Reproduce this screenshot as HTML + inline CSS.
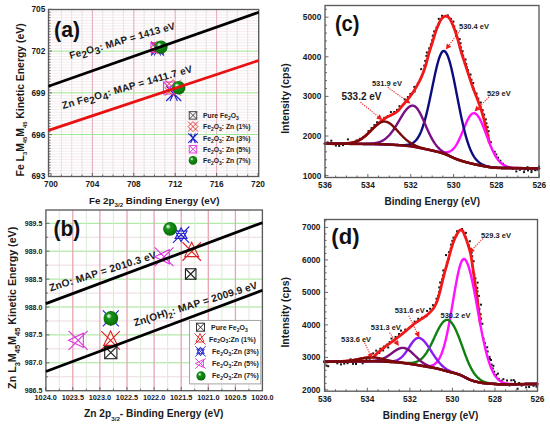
<!DOCTYPE html>
<html><head><meta charset="utf-8"><style>
html,body{margin:0;padding:0;background:#fff;}
svg{display:block;font-family:"Liberation Sans",sans-serif;}
</style></head><body>
<svg width="550" height="426" viewBox="0 0 550 426">
<rect width="550" height="426" fill="#fff"/>
<defs><radialGradient id="ball" cx="0.45" cy="0.42" r="0.6" fx="0.34" fy="0.32"><stop offset="0" stop-color="#f4fff4"/><stop offset="0.14" stop-color="#a8d8a8"/><stop offset="0.32" stop-color="#168e16"/><stop offset="0.8" stop-color="#0a780a"/><stop offset="1" stop-color="#066206"/></radialGradient><marker id="ah" viewBox="0 0 10 10" refX="9" refY="5" markerWidth="5" markerHeight="5" orient="auto"><path d="M0,0 L10,5 L0,10 z" fill="#f01010"/></marker></defs>
<line x1="48.5" y1="173.52" x2="258.7" y2="173.52" stroke="#f4e4e8" stroke-width="0.8" />
<line x1="48.5" y1="170.74" x2="258.7" y2="170.74" stroke="#f4e4e8" stroke-width="0.8" />
<line x1="48.5" y1="167.95" x2="258.7" y2="167.95" stroke="#f4e4e8" stroke-width="0.8" />
<line x1="48.5" y1="165.17" x2="258.7" y2="165.17" stroke="#f4e4e8" stroke-width="0.8" />
<line x1="48.5" y1="162.39" x2="258.7" y2="162.39" stroke="#f4e4e8" stroke-width="0.8" />
<line x1="48.5" y1="159.61" x2="258.7" y2="159.61" stroke="#f4e4e8" stroke-width="0.8" />
<line x1="48.5" y1="156.83" x2="258.7" y2="156.83" stroke="#f4e4e8" stroke-width="0.8" />
<line x1="48.5" y1="154.04" x2="258.7" y2="154.04" stroke="#f4e4e8" stroke-width="0.8" />
<line x1="48.5" y1="151.26" x2="258.7" y2="151.26" stroke="#f4e4e8" stroke-width="0.8" />
<line x1="48.5" y1="148.48" x2="258.7" y2="148.48" stroke="#f4e4e8" stroke-width="0.8" />
<line x1="48.5" y1="145.7" x2="258.7" y2="145.7" stroke="#f4e4e8" stroke-width="0.8" />
<line x1="48.5" y1="142.92" x2="258.7" y2="142.92" stroke="#f4e4e8" stroke-width="0.8" />
<line x1="48.5" y1="140.13" x2="258.7" y2="140.13" stroke="#f4e4e8" stroke-width="0.8" />
<line x1="48.5" y1="137.35" x2="258.7" y2="137.35" stroke="#f4e4e8" stroke-width="0.8" />
<line x1="48.5" y1="131.79" x2="258.7" y2="131.79" stroke="#f4e4e8" stroke-width="0.8" />
<line x1="48.5" y1="129.01" x2="258.7" y2="129.01" stroke="#f4e4e8" stroke-width="0.8" />
<line x1="48.5" y1="126.22" x2="258.7" y2="126.22" stroke="#f4e4e8" stroke-width="0.8" />
<line x1="48.5" y1="123.44" x2="258.7" y2="123.44" stroke="#f4e4e8" stroke-width="0.8" />
<line x1="48.5" y1="120.66" x2="258.7" y2="120.66" stroke="#f4e4e8" stroke-width="0.8" />
<line x1="48.5" y1="117.88" x2="258.7" y2="117.88" stroke="#f4e4e8" stroke-width="0.8" />
<line x1="48.5" y1="115.1" x2="258.7" y2="115.1" stroke="#f4e4e8" stroke-width="0.8" />
<line x1="48.5" y1="112.31" x2="258.7" y2="112.31" stroke="#f4e4e8" stroke-width="0.8" />
<line x1="48.5" y1="109.53" x2="258.7" y2="109.53" stroke="#f4e4e8" stroke-width="0.8" />
<line x1="48.5" y1="106.75" x2="258.7" y2="106.75" stroke="#f4e4e8" stroke-width="0.8" />
<line x1="48.5" y1="103.97" x2="258.7" y2="103.97" stroke="#f4e4e8" stroke-width="0.8" />
<line x1="48.5" y1="101.19" x2="258.7" y2="101.19" stroke="#f4e4e8" stroke-width="0.8" />
<line x1="48.5" y1="98.4" x2="258.7" y2="98.4" stroke="#f4e4e8" stroke-width="0.8" />
<line x1="48.5" y1="95.62" x2="258.7" y2="95.62" stroke="#f4e4e8" stroke-width="0.8" />
<line x1="48.5" y1="90.06" x2="258.7" y2="90.06" stroke="#f4e4e8" stroke-width="0.8" />
<line x1="48.5" y1="87.28" x2="258.7" y2="87.28" stroke="#f4e4e8" stroke-width="0.8" />
<line x1="48.5" y1="84.49" x2="258.7" y2="84.49" stroke="#f4e4e8" stroke-width="0.8" />
<line x1="48.5" y1="81.71" x2="258.7" y2="81.71" stroke="#f4e4e8" stroke-width="0.8" />
<line x1="48.5" y1="78.93" x2="258.7" y2="78.93" stroke="#f4e4e8" stroke-width="0.8" />
<line x1="48.5" y1="76.15" x2="258.7" y2="76.15" stroke="#f4e4e8" stroke-width="0.8" />
<line x1="48.5" y1="73.37" x2="258.7" y2="73.37" stroke="#f4e4e8" stroke-width="0.8" />
<line x1="48.5" y1="70.58" x2="258.7" y2="70.58" stroke="#f4e4e8" stroke-width="0.8" />
<line x1="48.5" y1="67.8" x2="258.7" y2="67.8" stroke="#f4e4e8" stroke-width="0.8" />
<line x1="48.5" y1="65.02" x2="258.7" y2="65.02" stroke="#f4e4e8" stroke-width="0.8" />
<line x1="48.5" y1="62.24" x2="258.7" y2="62.24" stroke="#f4e4e8" stroke-width="0.8" />
<line x1="48.5" y1="59.46" x2="258.7" y2="59.46" stroke="#f4e4e8" stroke-width="0.8" />
<line x1="48.5" y1="56.67" x2="258.7" y2="56.67" stroke="#f4e4e8" stroke-width="0.8" />
<line x1="48.5" y1="53.89" x2="258.7" y2="53.89" stroke="#f4e4e8" stroke-width="0.8" />
<line x1="48.5" y1="48.33" x2="258.7" y2="48.33" stroke="#f4e4e8" stroke-width="0.8" />
<line x1="48.5" y1="45.55" x2="258.7" y2="45.55" stroke="#f4e4e8" stroke-width="0.8" />
<line x1="48.5" y1="42.76" x2="258.7" y2="42.76" stroke="#f4e4e8" stroke-width="0.8" />
<line x1="48.5" y1="39.98" x2="258.7" y2="39.98" stroke="#f4e4e8" stroke-width="0.8" />
<line x1="48.5" y1="37.2" x2="258.7" y2="37.2" stroke="#f4e4e8" stroke-width="0.8" />
<line x1="48.5" y1="34.42" x2="258.7" y2="34.42" stroke="#f4e4e8" stroke-width="0.8" />
<line x1="48.5" y1="31.64" x2="258.7" y2="31.64" stroke="#f4e4e8" stroke-width="0.8" />
<line x1="48.5" y1="28.85" x2="258.7" y2="28.85" stroke="#f4e4e8" stroke-width="0.8" />
<line x1="48.5" y1="26.07" x2="258.7" y2="26.07" stroke="#f4e4e8" stroke-width="0.8" />
<line x1="48.5" y1="23.29" x2="258.7" y2="23.29" stroke="#f4e4e8" stroke-width="0.8" />
<line x1="48.5" y1="20.51" x2="258.7" y2="20.51" stroke="#f4e4e8" stroke-width="0.8" />
<line x1="48.5" y1="17.73" x2="258.7" y2="17.73" stroke="#f4e4e8" stroke-width="0.8" />
<line x1="48.5" y1="14.94" x2="258.7" y2="14.94" stroke="#f4e4e8" stroke-width="0.8" />
<line x1="48.5" y1="12.16" x2="258.7" y2="12.16" stroke="#f4e4e8" stroke-width="0.8" />
<line x1="61.35" y1="9.5" x2="61.35" y2="176.5" stroke="#e0e2e0" stroke-width="0.9" />
<line x1="71.7" y1="9.5" x2="71.7" y2="176.5" stroke="#e0e2e0" stroke-width="0.9" />
<line x1="82.05" y1="9.5" x2="82.05" y2="176.5" stroke="#e0e2e0" stroke-width="0.9" />
<line x1="102.75" y1="9.5" x2="102.75" y2="176.5" stroke="#e0e2e0" stroke-width="0.9" />
<line x1="113.1" y1="9.5" x2="113.1" y2="176.5" stroke="#e0e2e0" stroke-width="0.9" />
<line x1="123.45" y1="9.5" x2="123.45" y2="176.5" stroke="#e0e2e0" stroke-width="0.9" />
<line x1="144.15" y1="9.5" x2="144.15" y2="176.5" stroke="#e0e2e0" stroke-width="0.9" />
<line x1="154.5" y1="9.5" x2="154.5" y2="176.5" stroke="#e0e2e0" stroke-width="0.9" />
<line x1="164.85" y1="9.5" x2="164.85" y2="176.5" stroke="#e0e2e0" stroke-width="0.9" />
<line x1="185.55" y1="9.5" x2="185.55" y2="176.5" stroke="#e0e2e0" stroke-width="0.9" />
<line x1="195.9" y1="9.5" x2="195.9" y2="176.5" stroke="#e0e2e0" stroke-width="0.9" />
<line x1="206.25" y1="9.5" x2="206.25" y2="176.5" stroke="#e0e2e0" stroke-width="0.9" />
<line x1="226.95" y1="9.5" x2="226.95" y2="176.5" stroke="#e0e2e0" stroke-width="0.9" />
<line x1="237.3" y1="9.5" x2="237.3" y2="176.5" stroke="#e0e2e0" stroke-width="0.9" />
<line x1="247.65" y1="9.5" x2="247.65" y2="176.5" stroke="#e0e2e0" stroke-width="0.9" />
<line x1="92.4" y1="9.5" x2="92.4" y2="176.5" stroke="#e2b0bc" stroke-width="1.1" />
<line x1="133.8" y1="9.5" x2="133.8" y2="176.5" stroke="#e2b0bc" stroke-width="1.1" />
<line x1="175.2" y1="9.5" x2="175.2" y2="176.5" stroke="#e2b0bc" stroke-width="1.1" />
<line x1="216.6" y1="9.5" x2="216.6" y2="176.5" stroke="#e2b0bc" stroke-width="1.1" />
<line x1="48.5" y1="134.57" x2="258.7" y2="134.57" stroke="#9ee490" stroke-width="1" />
<line x1="48.5" y1="92.84" x2="258.7" y2="92.84" stroke="#9ee490" stroke-width="1" />
<line x1="48.5" y1="51.11" x2="258.7" y2="51.11" stroke="#9ee490" stroke-width="1" />
<line x1="48.5" y1="176.3" x2="52" y2="176.3" stroke="#5a5a5a" stroke-width="0.9" />
<line x1="48.5" y1="173.52" x2="50.5" y2="173.52" stroke="#5a5a5a" stroke-width="0.9" />
<line x1="48.5" y1="170.74" x2="50.5" y2="170.74" stroke="#5a5a5a" stroke-width="0.9" />
<line x1="48.5" y1="167.95" x2="50.5" y2="167.95" stroke="#5a5a5a" stroke-width="0.9" />
<line x1="48.5" y1="165.17" x2="50.5" y2="165.17" stroke="#5a5a5a" stroke-width="0.9" />
<line x1="48.5" y1="162.39" x2="50.5" y2="162.39" stroke="#5a5a5a" stroke-width="0.9" />
<line x1="48.5" y1="159.61" x2="50.5" y2="159.61" stroke="#5a5a5a" stroke-width="0.9" />
<line x1="48.5" y1="156.83" x2="50.5" y2="156.83" stroke="#5a5a5a" stroke-width="0.9" />
<line x1="48.5" y1="154.04" x2="50.5" y2="154.04" stroke="#5a5a5a" stroke-width="0.9" />
<line x1="48.5" y1="151.26" x2="50.5" y2="151.26" stroke="#5a5a5a" stroke-width="0.9" />
<line x1="48.5" y1="148.48" x2="50.5" y2="148.48" stroke="#5a5a5a" stroke-width="0.9" />
<line x1="48.5" y1="145.7" x2="50.5" y2="145.7" stroke="#5a5a5a" stroke-width="0.9" />
<line x1="48.5" y1="142.92" x2="50.5" y2="142.92" stroke="#5a5a5a" stroke-width="0.9" />
<line x1="48.5" y1="140.13" x2="50.5" y2="140.13" stroke="#5a5a5a" stroke-width="0.9" />
<line x1="48.5" y1="137.35" x2="50.5" y2="137.35" stroke="#5a5a5a" stroke-width="0.9" />
<line x1="48.5" y1="134.57" x2="52" y2="134.57" stroke="#5a5a5a" stroke-width="0.9" />
<line x1="48.5" y1="131.79" x2="50.5" y2="131.79" stroke="#5a5a5a" stroke-width="0.9" />
<line x1="48.5" y1="129.01" x2="50.5" y2="129.01" stroke="#5a5a5a" stroke-width="0.9" />
<line x1="48.5" y1="126.22" x2="50.5" y2="126.22" stroke="#5a5a5a" stroke-width="0.9" />
<line x1="48.5" y1="123.44" x2="50.5" y2="123.44" stroke="#5a5a5a" stroke-width="0.9" />
<line x1="48.5" y1="120.66" x2="50.5" y2="120.66" stroke="#5a5a5a" stroke-width="0.9" />
<line x1="48.5" y1="117.88" x2="50.5" y2="117.88" stroke="#5a5a5a" stroke-width="0.9" />
<line x1="48.5" y1="115.1" x2="50.5" y2="115.1" stroke="#5a5a5a" stroke-width="0.9" />
<line x1="48.5" y1="112.31" x2="50.5" y2="112.31" stroke="#5a5a5a" stroke-width="0.9" />
<line x1="48.5" y1="109.53" x2="50.5" y2="109.53" stroke="#5a5a5a" stroke-width="0.9" />
<line x1="48.5" y1="106.75" x2="50.5" y2="106.75" stroke="#5a5a5a" stroke-width="0.9" />
<line x1="48.5" y1="103.97" x2="50.5" y2="103.97" stroke="#5a5a5a" stroke-width="0.9" />
<line x1="48.5" y1="101.19" x2="50.5" y2="101.19" stroke="#5a5a5a" stroke-width="0.9" />
<line x1="48.5" y1="98.4" x2="50.5" y2="98.4" stroke="#5a5a5a" stroke-width="0.9" />
<line x1="48.5" y1="95.62" x2="50.5" y2="95.62" stroke="#5a5a5a" stroke-width="0.9" />
<line x1="48.5" y1="92.84" x2="52" y2="92.84" stroke="#5a5a5a" stroke-width="0.9" />
<line x1="48.5" y1="90.06" x2="50.5" y2="90.06" stroke="#5a5a5a" stroke-width="0.9" />
<line x1="48.5" y1="87.28" x2="50.5" y2="87.28" stroke="#5a5a5a" stroke-width="0.9" />
<line x1="48.5" y1="84.49" x2="50.5" y2="84.49" stroke="#5a5a5a" stroke-width="0.9" />
<line x1="48.5" y1="81.71" x2="50.5" y2="81.71" stroke="#5a5a5a" stroke-width="0.9" />
<line x1="48.5" y1="78.93" x2="50.5" y2="78.93" stroke="#5a5a5a" stroke-width="0.9" />
<line x1="48.5" y1="76.15" x2="50.5" y2="76.15" stroke="#5a5a5a" stroke-width="0.9" />
<line x1="48.5" y1="73.37" x2="50.5" y2="73.37" stroke="#5a5a5a" stroke-width="0.9" />
<line x1="48.5" y1="70.58" x2="50.5" y2="70.58" stroke="#5a5a5a" stroke-width="0.9" />
<line x1="48.5" y1="67.8" x2="50.5" y2="67.8" stroke="#5a5a5a" stroke-width="0.9" />
<line x1="48.5" y1="65.02" x2="50.5" y2="65.02" stroke="#5a5a5a" stroke-width="0.9" />
<line x1="48.5" y1="62.24" x2="50.5" y2="62.24" stroke="#5a5a5a" stroke-width="0.9" />
<line x1="48.5" y1="59.46" x2="50.5" y2="59.46" stroke="#5a5a5a" stroke-width="0.9" />
<line x1="48.5" y1="56.67" x2="50.5" y2="56.67" stroke="#5a5a5a" stroke-width="0.9" />
<line x1="48.5" y1="53.89" x2="50.5" y2="53.89" stroke="#5a5a5a" stroke-width="0.9" />
<line x1="48.5" y1="51.11" x2="52" y2="51.11" stroke="#5a5a5a" stroke-width="0.9" />
<line x1="48.5" y1="48.33" x2="50.5" y2="48.33" stroke="#5a5a5a" stroke-width="0.9" />
<line x1="48.5" y1="45.55" x2="50.5" y2="45.55" stroke="#5a5a5a" stroke-width="0.9" />
<line x1="48.5" y1="42.76" x2="50.5" y2="42.76" stroke="#5a5a5a" stroke-width="0.9" />
<line x1="48.5" y1="39.98" x2="50.5" y2="39.98" stroke="#5a5a5a" stroke-width="0.9" />
<line x1="48.5" y1="37.2" x2="50.5" y2="37.2" stroke="#5a5a5a" stroke-width="0.9" />
<line x1="48.5" y1="34.42" x2="50.5" y2="34.42" stroke="#5a5a5a" stroke-width="0.9" />
<line x1="48.5" y1="31.64" x2="50.5" y2="31.64" stroke="#5a5a5a" stroke-width="0.9" />
<line x1="48.5" y1="28.85" x2="50.5" y2="28.85" stroke="#5a5a5a" stroke-width="0.9" />
<line x1="48.5" y1="26.07" x2="50.5" y2="26.07" stroke="#5a5a5a" stroke-width="0.9" />
<line x1="48.5" y1="23.29" x2="50.5" y2="23.29" stroke="#5a5a5a" stroke-width="0.9" />
<line x1="48.5" y1="20.51" x2="50.5" y2="20.51" stroke="#5a5a5a" stroke-width="0.9" />
<line x1="48.5" y1="17.73" x2="50.5" y2="17.73" stroke="#5a5a5a" stroke-width="0.9" />
<line x1="48.5" y1="14.94" x2="50.5" y2="14.94" stroke="#5a5a5a" stroke-width="0.9" />
<line x1="48.5" y1="12.16" x2="50.5" y2="12.16" stroke="#5a5a5a" stroke-width="0.9" />
<line x1="48.5" y1="9.38" x2="52" y2="9.38" stroke="#5a5a5a" stroke-width="0.9" />
<line x1="51" y1="176.5" x2="51" y2="173" stroke="#5a5a5a" stroke-width="0.9" />
<line x1="61.35" y1="176.5" x2="61.35" y2="174.5" stroke="#5a5a5a" stroke-width="0.9" />
<line x1="71.7" y1="176.5" x2="71.7" y2="174.5" stroke="#5a5a5a" stroke-width="0.9" />
<line x1="82.05" y1="176.5" x2="82.05" y2="174.5" stroke="#5a5a5a" stroke-width="0.9" />
<line x1="92.4" y1="176.5" x2="92.4" y2="173" stroke="#5a5a5a" stroke-width="0.9" />
<line x1="102.75" y1="176.5" x2="102.75" y2="174.5" stroke="#5a5a5a" stroke-width="0.9" />
<line x1="113.1" y1="176.5" x2="113.1" y2="174.5" stroke="#5a5a5a" stroke-width="0.9" />
<line x1="123.45" y1="176.5" x2="123.45" y2="174.5" stroke="#5a5a5a" stroke-width="0.9" />
<line x1="133.8" y1="176.5" x2="133.8" y2="173" stroke="#5a5a5a" stroke-width="0.9" />
<line x1="144.15" y1="176.5" x2="144.15" y2="174.5" stroke="#5a5a5a" stroke-width="0.9" />
<line x1="154.5" y1="176.5" x2="154.5" y2="174.5" stroke="#5a5a5a" stroke-width="0.9" />
<line x1="164.85" y1="176.5" x2="164.85" y2="174.5" stroke="#5a5a5a" stroke-width="0.9" />
<line x1="175.2" y1="176.5" x2="175.2" y2="173" stroke="#5a5a5a" stroke-width="0.9" />
<line x1="185.55" y1="176.5" x2="185.55" y2="174.5" stroke="#5a5a5a" stroke-width="0.9" />
<line x1="195.9" y1="176.5" x2="195.9" y2="174.5" stroke="#5a5a5a" stroke-width="0.9" />
<line x1="206.25" y1="176.5" x2="206.25" y2="174.5" stroke="#5a5a5a" stroke-width="0.9" />
<line x1="216.6" y1="176.5" x2="216.6" y2="173" stroke="#5a5a5a" stroke-width="0.9" />
<line x1="226.95" y1="176.5" x2="226.95" y2="174.5" stroke="#5a5a5a" stroke-width="0.9" />
<line x1="237.3" y1="176.5" x2="237.3" y2="174.5" stroke="#5a5a5a" stroke-width="0.9" />
<line x1="247.65" y1="176.5" x2="247.65" y2="174.5" stroke="#5a5a5a" stroke-width="0.9" />
<line x1="258" y1="176.5" x2="258" y2="173" stroke="#5a5a5a" stroke-width="0.9" />
<rect x="48.5" y="9.5" width="210.2" height="167" fill="none" stroke="#5a5a5a" stroke-width="1.35"/>
<text x="45.3" y="179.3" font-size="8.3" text-anchor="end" font-weight="bold" fill="#1a1a1a" >693</text>
<text x="45.3" y="137.57" font-size="8.3" text-anchor="end" font-weight="bold" fill="#1a1a1a" >696</text>
<text x="45.3" y="95.84" font-size="8.3" text-anchor="end" font-weight="bold" fill="#1a1a1a" >699</text>
<text x="45.3" y="54.11" font-size="8.3" text-anchor="end" font-weight="bold" fill="#1a1a1a" >702</text>
<text x="45.3" y="12.38" font-size="8.3" text-anchor="end" font-weight="bold" fill="#1a1a1a" >705</text>
<text x="51" y="187" font-size="8.3" text-anchor="middle" font-weight="bold" fill="#1a1a1a" >700</text>
<text x="92.4" y="187" font-size="8.3" text-anchor="middle" font-weight="bold" fill="#1a1a1a" >704</text>
<text x="133.8" y="187" font-size="8.3" text-anchor="middle" font-weight="bold" fill="#1a1a1a" >708</text>
<text x="175.2" y="187" font-size="8.3" text-anchor="middle" font-weight="bold" fill="#1a1a1a" >712</text>
<text x="216.6" y="187" font-size="8.3" text-anchor="middle" font-weight="bold" fill="#1a1a1a" >716</text>
<text x="258" y="187" font-size="8.3" text-anchor="middle" font-weight="bold" fill="#1a1a1a" >720</text>
<text x="54.1" y="37.1" font-size="22" text-anchor="start" font-weight="bold" fill="#111" textLength="25.9" lengthAdjust="spacingAndGlyphs">(a)</text>
<text x="0" y="0" font-size="10" letter-spacing="0.115" font-weight="bold" fill="#1a1a1a" transform="translate(70.4,59) rotate(-16)">Fe<tspan dy="3" font-size="10">2</tspan><tspan dy="-3">O</tspan><tspan dy="3">3</tspan><tspan dy="-3">: MAP = 1413 eV</tspan></text>
<text x="0" y="0" font-size="10" letter-spacing="0.2" font-weight="bold" fill="#1a1a1a" transform="translate(63.1,109.1) rotate(-16)">Zn Fe<tspan dy="3">2</tspan><tspan dy="-3">O</tspan><tspan dy="3">4</tspan><tspan dy="-3">: MAP = 1411.7 eV</tspan></text>
<g stroke="#2020d0" stroke-width="1.1" fill="none"><path d="M151,42.5 L164,55.5 M164,42.5 L151,55.5 M154.25,42.5 L157.5,49 L160.75,42.5 M154.25,55.5 L157.5,49 L160.75,55.5"/></g>
<g stroke="#e040e0" stroke-width="1.1" fill="none"><rect x="151" y="42.5" width="10" height="10"/><path d="M151,42.5 L161,52.5 M161,42.5 L151,52.5"/></g>
<g stroke="#e03030" stroke-width="0.9" fill="none"><path d="M151,41 L164,54 M164,41 L151,54 M157.5,41 L164,47.5 L157.5,54 L151,47.5 Z"/></g>
<circle cx="161" cy="47.1" r="6.6" fill="url(#ball)"/>
<g stroke="#2020d0" stroke-width="1.1" fill="none"><path d="M166.2,86 L181.2,101 M181.2,86 L166.2,101 M169.95,86 L173.7,93.5 L177.45,86 M169.95,101 L173.7,93.5 L177.45,101"/></g>
<g stroke="#e040e0" stroke-width="1.1" fill="none"><rect x="163.5" y="82" width="12" height="12"/><path d="M163.5,82 L175.5,94 M175.5,82 L163.5,94"/></g>
<g stroke="#e03030" stroke-width="0.9" fill="none"><path d="M165,79.7 L181,95.7 M181,79.7 L165,95.7 M173,79.7 L181,87.7 L173,95.7 L165,87.7 Z"/></g>
<circle cx="178.7" cy="87.7" r="6.7" fill="url(#ball)"/>
<line x1="48.5" y1="130.3" x2="258.7" y2="60.5" stroke="#e81010" stroke-width="2.8" />
<line x1="48.5" y1="86.3" x2="258.7" y2="12.3" stroke="#000" stroke-width="2.8" />
<g stroke="#444" stroke-width="1" fill="none"><rect x="189.25" y="111.65" width="7.5" height="7.5"/><path d="M189.25,111.65 L196.75,119.15 M196.75,111.65 L189.25,119.15"/></g>
<g stroke="#e03030" stroke-width="0.9" fill="none"><path d="M188,121.6 L198,131.6 M198,121.6 L188,131.6 M193,121.6 L198,126.6 L193,131.6 L188,126.6 Z"/></g>
<g stroke="#2020d0" stroke-width="1.1" fill="none"><path d="M188.25,133.45 L197.75,142.95 M197.75,133.45 L188.25,142.95 M190.62,133.45 L193,138.2 L195.38,133.45 M190.62,142.95 L193,138.2 L195.38,142.95"/></g>
<g stroke="#e040e0" stroke-width="1" fill="none"><rect x="189.25" y="145.45" width="7.5" height="7.5"/><path d="M189.25,145.45 L196.75,152.95 M196.75,145.45 L189.25,152.95"/></g>
<circle cx="193" cy="160.4" r="4.3" fill="url(#ball)"/>
<text x="203" y="117.9" font-size="6.8" font-weight="bold" fill="#1a1a1a">Pure Fe<tspan dy="1.8" font-size="5">2</tspan><tspan dy="-1.8">O</tspan><tspan dy="1.8" font-size="5">3</tspan><tspan dy="-1.8"></tspan></text>
<text x="203" y="129.1" font-size="6.8" font-weight="bold" fill="#1a1a1a">Fe<tspan dy="1.8" font-size="5">2</tspan><tspan dy="-1.8">O</tspan><tspan dy="1.8" font-size="5">3</tspan><tspan dy="-1.8">: Zn (1%)</tspan></text>
<text x="203" y="140.7" font-size="6.8" font-weight="bold" fill="#1a1a1a">Fe<tspan dy="1.8" font-size="5">2</tspan><tspan dy="-1.8">O</tspan><tspan dy="1.8" font-size="5">3</tspan><tspan dy="-1.8">: Zn (3%)</tspan></text>
<text x="203" y="151.7" font-size="6.8" font-weight="bold" fill="#1a1a1a">Fe<tspan dy="1.8" font-size="5">2</tspan><tspan dy="-1.8">O</tspan><tspan dy="1.8" font-size="5">3</tspan><tspan dy="-1.8">: Zn (5%)</tspan></text>
<text x="203" y="162.9" font-size="6.8" font-weight="bold" fill="#1a1a1a">Fe<tspan dy="1.8" font-size="5">2</tspan><tspan dy="-1.8">O</tspan><tspan dy="1.8" font-size="5">3</tspan><tspan dy="-1.8">: Zn (7%)</tspan></text>
<text x="154.2" y="203.5" font-size="9.8" font-weight="bold" fill="#1a1a1a" text-anchor="middle">Fe 2p<tspan dy="3.8" font-size="6.2">3/2</tspan><tspan dy="-3.8"> Binding Energy (eV)</tspan></text>
<text x="0" y="0" font-size="10.4" font-weight="bold" fill="#1a1a1a" text-anchor="middle" transform="translate(23.9,99.9) rotate(-90)">Fe L<tspan dy="3.2" font-size="5.8">3</tspan><tspan dy="-3.2">M</tspan><tspan dy="3.2" font-size="5.8">45</tspan><tspan dy="-3.2">M</tspan><tspan dy="3.2" font-size="5.8">45</tspan><tspan dy="-3.2"> Kinetic Energy (eV)</tspan></text>
<line x1="45.9" y1="376.75" x2="262.4" y2="376.75" stroke="#ecd6de" stroke-width="0.9" />
<line x1="45.9" y1="362.8" x2="262.4" y2="362.8" stroke="#9ee490" stroke-width="1" />
<line x1="45.9" y1="348.85" x2="262.4" y2="348.85" stroke="#ecd6de" stroke-width="0.9" />
<line x1="45.9" y1="334.9" x2="262.4" y2="334.9" stroke="#9ee490" stroke-width="1" />
<line x1="45.9" y1="320.95" x2="262.4" y2="320.95" stroke="#ecd6de" stroke-width="0.9" />
<line x1="45.9" y1="307" x2="262.4" y2="307" stroke="#9ee490" stroke-width="1" />
<line x1="45.9" y1="293.05" x2="262.4" y2="293.05" stroke="#ecd6de" stroke-width="0.9" />
<line x1="45.9" y1="279.1" x2="262.4" y2="279.1" stroke="#9ee490" stroke-width="1" />
<line x1="45.9" y1="265.15" x2="262.4" y2="265.15" stroke="#ecd6de" stroke-width="0.9" />
<line x1="45.9" y1="251.2" x2="262.4" y2="251.2" stroke="#9ee490" stroke-width="1" />
<line x1="45.9" y1="237.25" x2="262.4" y2="237.25" stroke="#ecd6de" stroke-width="0.9" />
<line x1="45.9" y1="223.3" x2="262.4" y2="223.3" stroke="#9ee490" stroke-width="1" />
<line x1="59.25" y1="210" x2="59.25" y2="390.7" stroke="#d6e8d4" stroke-width="0.9" />
<line x1="72.8" y1="210" x2="72.8" y2="390.7" stroke="#e4a6b0" stroke-width="1.3" />
<line x1="86.35" y1="210" x2="86.35" y2="390.7" stroke="#d6e8d4" stroke-width="0.9" />
<line x1="99.9" y1="210" x2="99.9" y2="390.7" stroke="#e4a6b0" stroke-width="1.3" />
<line x1="113.45" y1="210" x2="113.45" y2="390.7" stroke="#d6e8d4" stroke-width="0.9" />
<line x1="127" y1="210" x2="127" y2="390.7" stroke="#e4a6b0" stroke-width="1.3" />
<line x1="140.55" y1="210" x2="140.55" y2="390.7" stroke="#d6e8d4" stroke-width="0.9" />
<line x1="154.1" y1="210" x2="154.1" y2="390.7" stroke="#e4a6b0" stroke-width="1.3" />
<line x1="167.65" y1="210" x2="167.65" y2="390.7" stroke="#d6e8d4" stroke-width="0.9" />
<line x1="181.2" y1="210" x2="181.2" y2="390.7" stroke="#e4a6b0" stroke-width="1.3" />
<line x1="194.75" y1="210" x2="194.75" y2="390.7" stroke="#d6e8d4" stroke-width="0.9" />
<line x1="208.3" y1="210" x2="208.3" y2="390.7" stroke="#e4a6b0" stroke-width="1.3" />
<line x1="221.85" y1="210" x2="221.85" y2="390.7" stroke="#d6e8d4" stroke-width="0.9" />
<line x1="235.4" y1="210" x2="235.4" y2="390.7" stroke="#e4a6b0" stroke-width="1.3" />
<line x1="248.95" y1="210" x2="248.95" y2="390.7" stroke="#d6e8d4" stroke-width="0.9" />
<line x1="45.9" y1="390.7" x2="49.4" y2="390.7" stroke="#5a5a5a" stroke-width="0.9" />
<line x1="45.9" y1="376.75" x2="47.9" y2="376.75" stroke="#5a5a5a" stroke-width="0.9" />
<line x1="45.9" y1="362.8" x2="49.4" y2="362.8" stroke="#5a5a5a" stroke-width="0.9" />
<line x1="45.9" y1="348.85" x2="47.9" y2="348.85" stroke="#5a5a5a" stroke-width="0.9" />
<line x1="45.9" y1="334.9" x2="49.4" y2="334.9" stroke="#5a5a5a" stroke-width="0.9" />
<line x1="45.9" y1="320.95" x2="47.9" y2="320.95" stroke="#5a5a5a" stroke-width="0.9" />
<line x1="45.9" y1="307" x2="49.4" y2="307" stroke="#5a5a5a" stroke-width="0.9" />
<line x1="45.9" y1="293.05" x2="47.9" y2="293.05" stroke="#5a5a5a" stroke-width="0.9" />
<line x1="45.9" y1="279.1" x2="49.4" y2="279.1" stroke="#5a5a5a" stroke-width="0.9" />
<line x1="45.9" y1="265.15" x2="47.9" y2="265.15" stroke="#5a5a5a" stroke-width="0.9" />
<line x1="45.9" y1="251.2" x2="49.4" y2="251.2" stroke="#5a5a5a" stroke-width="0.9" />
<line x1="45.9" y1="237.25" x2="47.9" y2="237.25" stroke="#5a5a5a" stroke-width="0.9" />
<line x1="45.9" y1="223.3" x2="49.4" y2="223.3" stroke="#5a5a5a" stroke-width="0.9" />
<line x1="45.7" y1="390.7" x2="45.7" y2="387.2" stroke="#5a5a5a" stroke-width="0.9" />
<line x1="59.25" y1="390.7" x2="59.25" y2="388.7" stroke="#5a5a5a" stroke-width="0.9" />
<line x1="72.8" y1="390.7" x2="72.8" y2="387.2" stroke="#5a5a5a" stroke-width="0.9" />
<line x1="86.35" y1="390.7" x2="86.35" y2="388.7" stroke="#5a5a5a" stroke-width="0.9" />
<line x1="99.9" y1="390.7" x2="99.9" y2="387.2" stroke="#5a5a5a" stroke-width="0.9" />
<line x1="113.45" y1="390.7" x2="113.45" y2="388.7" stroke="#5a5a5a" stroke-width="0.9" />
<line x1="127" y1="390.7" x2="127" y2="387.2" stroke="#5a5a5a" stroke-width="0.9" />
<line x1="140.55" y1="390.7" x2="140.55" y2="388.7" stroke="#5a5a5a" stroke-width="0.9" />
<line x1="154.1" y1="390.7" x2="154.1" y2="387.2" stroke="#5a5a5a" stroke-width="0.9" />
<line x1="167.65" y1="390.7" x2="167.65" y2="388.7" stroke="#5a5a5a" stroke-width="0.9" />
<line x1="181.2" y1="390.7" x2="181.2" y2="387.2" stroke="#5a5a5a" stroke-width="0.9" />
<line x1="194.75" y1="390.7" x2="194.75" y2="388.7" stroke="#5a5a5a" stroke-width="0.9" />
<line x1="208.3" y1="390.7" x2="208.3" y2="387.2" stroke="#5a5a5a" stroke-width="0.9" />
<line x1="221.85" y1="390.7" x2="221.85" y2="388.7" stroke="#5a5a5a" stroke-width="0.9" />
<line x1="235.4" y1="390.7" x2="235.4" y2="387.2" stroke="#5a5a5a" stroke-width="0.9" />
<line x1="248.95" y1="390.7" x2="248.95" y2="388.7" stroke="#5a5a5a" stroke-width="0.9" />
<line x1="262.5" y1="390.7" x2="262.5" y2="387.2" stroke="#5a5a5a" stroke-width="0.9" />
<rect x="45.9" y="210.0" width="216.5" height="180.7" fill="none" stroke="#5a5a5a" stroke-width="1.35"/>
<text x="42.3" y="393.2" font-size="7" text-anchor="end" font-weight="bold" fill="#1a1a1a" >986.5</text>
<text x="42.3" y="365.3" font-size="7" text-anchor="end" font-weight="bold" fill="#1a1a1a" >987.0</text>
<text x="42.3" y="337.4" font-size="7" text-anchor="end" font-weight="bold" fill="#1a1a1a" >987.5</text>
<text x="42.3" y="309.5" font-size="7" text-anchor="end" font-weight="bold" fill="#1a1a1a" >988.0</text>
<text x="42.3" y="281.6" font-size="7" text-anchor="end" font-weight="bold" fill="#1a1a1a" >988.5</text>
<text x="42.3" y="253.7" font-size="7" text-anchor="end" font-weight="bold" fill="#1a1a1a" >989.0</text>
<text x="42.3" y="225.8" font-size="7" text-anchor="end" font-weight="bold" fill="#1a1a1a" >989.5</text>
<text x="45.7" y="400.4" font-size="7.3" text-anchor="middle" font-weight="bold" fill="#1a1a1a" >1024.0</text>
<text x="72.8" y="400.4" font-size="7.3" text-anchor="middle" font-weight="bold" fill="#1a1a1a" >1023.5</text>
<text x="99.9" y="400.4" font-size="7.3" text-anchor="middle" font-weight="bold" fill="#1a1a1a" >1023.0</text>
<text x="127" y="400.4" font-size="7.3" text-anchor="middle" font-weight="bold" fill="#1a1a1a" >1022.5</text>
<text x="154.1" y="400.4" font-size="7.3" text-anchor="middle" font-weight="bold" fill="#1a1a1a" >1022.0</text>
<text x="181.2" y="400.4" font-size="7.3" text-anchor="middle" font-weight="bold" fill="#1a1a1a" >1021.5</text>
<text x="208.3" y="400.4" font-size="7.3" text-anchor="middle" font-weight="bold" fill="#1a1a1a" >1021.0</text>
<text x="235.4" y="400.4" font-size="7.3" text-anchor="middle" font-weight="bold" fill="#1a1a1a" >1020.5</text>
<text x="262.5" y="400.4" font-size="7.3" text-anchor="middle" font-weight="bold" fill="#1a1a1a" >1020.0</text>
<text x="53.4" y="235.6" font-size="22" text-anchor="start" font-weight="bold" fill="#111" textLength="26.8" lengthAdjust="spacingAndGlyphs">(b)</text>
<text x="0" y="0" font-size="10.2" letter-spacing="0.25" font-weight="bold" fill="#1a1a1a" transform="translate(50.4,291.5) rotate(-17.5)">ZnO: MAP = 2010.3 eV</text>
<text x="0" y="0" font-size="10.2" letter-spacing="0.14" font-weight="bold" fill="#1a1a1a" transform="translate(134.9,326.3) rotate(-17.2)">Zn(OH)<tspan dy="3" font-size="8">2</tspan><tspan dy="-3">: MAP = 2009.9 eV</tspan></text>
<g stroke="#2020d0" stroke-width="1.1" fill="none"><path d="M172.9,226.5 L189.3,242.9 M189.3,226.5 L172.9,242.9 M181.1,227.73 L187,238.39 L175.2,238.39 Z M181.1,241.67 L187,231.01 L175.2,231.01 Z"/></g>
<circle cx="170" cy="228.8" r="6.9" fill="url(#ball)"/>
<g stroke="#e02020" stroke-width="1.1" fill="none"><path d="M182.45,242.25 L200.95,260.75 M200.95,242.25 L182.45,260.75 M191.7,242.25 L198.64,256.59 L184.76,256.59 Z"/></g>
<g stroke="#e030e0" stroke-width="1.1" fill="none"><path d="M154.7,247.4 L173.5,266.2 M173.5,247.4 L154.7,266.2 M154.7,256.8 L169.27,249.75 L169.27,263.85 Z"/></g>
<g stroke="#222" stroke-width="1.1" fill="none"><rect x="185.45" y="268.75" width="10.5" height="10.5"/><path d="M185.45,268.75 L195.95,279.25 M195.95,268.75 L185.45,279.25"/></g>
<line x1="45.9" y1="303.6" x2="262.4" y2="222.7" stroke="#000" stroke-width="2.8" />
<g stroke="#2020d0" stroke-width="1.1" fill="none"><path d="M102.8,310.4 L118.8,326.4 M118.8,310.4 L102.8,326.4 M110.8,311.6 L116.56,322 L105.04,322 Z M110.8,325.2 L116.56,314.8 L105.04,314.8 Z"/></g>
<circle cx="110.9" cy="318.4" r="7.3" fill="url(#ball)"/>
<g stroke="#e030e0" stroke-width="1.1" fill="none"><path d="M68.6,330.8 L87.6,349.8 M87.6,330.8 L68.6,349.8 M68.6,340.3 L83.32,333.18 L83.32,347.43 Z"/></g>
<g stroke="#e02020" stroke-width="1.1" fill="none"><path d="M101.35,331.05 L119.85,349.55 M119.85,331.05 L101.35,349.55 M110.6,331.05 L117.54,345.39 L103.66,345.39 Z"/></g>
<g stroke="#222" stroke-width="1.1" fill="none"><rect x="104.7" y="346.5" width="12.2" height="12.2"/><path d="M104.7,346.5 L116.9,358.7 M116.9,346.5 L104.7,358.7"/></g>
<line x1="45.9" y1="371.5" x2="262.4" y2="290.3" stroke="#000" stroke-width="2.8" />
<rect x="189.6" y="320.4" width="71.2" height="63.5" fill="#fff" stroke="#999" stroke-width="0.9"/>
<g stroke="#333" stroke-width="1" fill="none"><rect x="196.5" y="323.2" width="8" height="8"/><path d="M196.5,323.2 L204.5,331.2 M204.5,323.2 L196.5,331.2"/></g>
<g stroke="#e02020" stroke-width="0.9" fill="none"><path d="M194.5,333.5 L205.5,344.5 M205.5,333.5 L194.5,344.5 M200,333.5 L204.12,342.02 L195.88,342.02 Z"/></g>
<g stroke="#2020d0" stroke-width="0.9" fill="none"><path d="M195.25,346.15 L205.75,356.65 M205.75,346.15 L195.25,356.65 M200.5,346.94 L204.28,353.76 L196.72,353.76 Z M200.5,355.86 L204.28,349.04 L196.72,349.04 Z"/></g>
<g stroke="#e030e0" stroke-width="0.9" fill="none"><path d="M195.25,358.25 L205.75,368.75 M205.75,358.25 L195.25,368.75 M195.25,363.5 L203.39,359.56 L203.39,367.44 Z"/></g>
<circle cx="201" cy="375.9" r="4.6" fill="url(#ball)"/>
<text x="211" y="329.7" font-size="7" font-weight="bold" fill="#1a1a1a">Pure Fe<tspan dy="1.8" font-size="5">2</tspan><tspan dy="-1.8">O</tspan><tspan dy="1.8" font-size="5">3</tspan><tspan dy="-1.8"></tspan></text>
<text x="209" y="341.5" font-size="7" font-weight="bold" fill="#1a1a1a">Fe<tspan dy="1.8" font-size="5">2</tspan><tspan dy="-1.8">O</tspan><tspan dy="1.8" font-size="5">3</tspan><tspan dy="-1.8">:Zn (1%)</tspan></text>
<text x="212" y="353.9" font-size="7" font-weight="bold" fill="#1a1a1a">Fe<tspan dy="1.8" font-size="5">2</tspan><tspan dy="-1.8">O</tspan><tspan dy="1.8" font-size="5">3</tspan><tspan dy="-1.8">:Zn (3%)</tspan></text>
<text x="212" y="366" font-size="7" font-weight="bold" fill="#1a1a1a">Fe<tspan dy="1.8" font-size="5">2</tspan><tspan dy="-1.8">O</tspan><tspan dy="1.8" font-size="5">3</tspan><tspan dy="-1.8">:Zn (5%)</tspan></text>
<text x="212" y="378.4" font-size="7" font-weight="bold" fill="#1a1a1a">Fe<tspan dy="1.8" font-size="5">2</tspan><tspan dy="-1.8">O</tspan><tspan dy="1.8" font-size="5">3</tspan><tspan dy="-1.8">:Zn (7%)</tspan></text>
<text x="153.75" y="417.3" font-size="10.2" font-weight="bold" fill="#1a1a1a" text-anchor="middle">Zn 2p<tspan dy="4.1" font-size="6.2">3/2</tspan><tspan dy="-4.1">- Binding Energy (eV)</tspan></text>
<text x="0" y="0" font-size="10.7" font-weight="bold" fill="#1a1a1a" text-anchor="middle" transform="translate(16.4,307.8) rotate(-90)">Zn L<tspan dy="3.7" font-size="7.5">3</tspan><tspan dy="-3.7">M</tspan><tspan dy="3.7" font-size="7.5">45</tspan><tspan dy="-3.7">M</tspan><tspan dy="3.7" font-size="7.5">45</tspan><tspan dy="-3.7"> Kinetic Energy (eV)</tspan></text>
<rect x="367.52" y="130.03" width="2" height="2" fill="#151515"/>
<rect x="370.57" y="127.05" width="2" height="2" fill="#151515"/>
<rect x="373.49" y="123.97" width="2" height="2" fill="#151515"/>
<rect x="376.05" y="121.26" width="2" height="2" fill="#151515"/>
<rect x="380.33" y="119.45" width="2" height="2" fill="#151515"/>
<rect x="383.28" y="116.88" width="2" height="2" fill="#151515"/>
<rect x="386.76" y="115.14" width="2" height="2" fill="#151515"/>
<rect x="389.88" y="111.08" width="2" height="2" fill="#151515"/>
<rect x="393.26" y="110.98" width="2" height="2" fill="#151515"/>
<rect x="395.99" y="108.85" width="2" height="2" fill="#151515"/>
<rect x="398.45" y="105.22" width="2" height="2" fill="#151515"/>
<rect x="402.99" y="102.74" width="2" height="2" fill="#151515"/>
<rect x="403.78" y="98.48" width="2" height="2" fill="#151515"/>
<rect x="406.89" y="96.05" width="2" height="2" fill="#151515"/>
<rect x="409.34" y="92.91" width="2" height="2" fill="#151515"/>
<rect x="413.63" y="90.44" width="2" height="2" fill="#151515"/>
<rect x="413.31" y="85.91" width="2" height="2" fill="#151515"/>
<rect x="416.85" y="82.42" width="2" height="2" fill="#151515"/>
<rect x="418.96" y="78.5" width="2" height="2" fill="#151515"/>
<rect x="420.94" y="74.12" width="2" height="2" fill="#151515"/>
<rect x="420.2" y="68.13" width="2" height="2" fill="#151515"/>
<rect x="423.25" y="64.6" width="2" height="2" fill="#151515"/>
<rect x="424.22" y="59.85" width="2" height="2" fill="#151515"/>
<rect x="425.43" y="54.83" width="2" height="2" fill="#151515"/>
<rect x="425.86" y="51.49" width="2" height="2" fill="#151515"/>
<rect x="428.15" y="47.37" width="2" height="2" fill="#151515"/>
<rect x="429.87" y="43.31" width="2" height="2" fill="#151515"/>
<rect x="431.26" y="39.14" width="2" height="2" fill="#151515"/>
<rect x="431.81" y="34.62" width="2" height="2" fill="#151515"/>
<rect x="433.18" y="30.37" width="2" height="2" fill="#151515"/>
<rect x="435.52" y="26.56" width="2" height="2" fill="#151515"/>
<rect x="437.73" y="22.82" width="2" height="2" fill="#151515"/>
<rect x="437.75" y="17.83" width="2" height="2" fill="#151515"/>
<rect x="441.02" y="14.77" width="2" height="2" fill="#151515"/>
<rect x="446.8" y="14.39" width="2" height="2" fill="#151515"/>
<rect x="450.01" y="17.89" width="2" height="2" fill="#151515"/>
<rect x="452.43" y="20.61" width="2" height="2" fill="#151515"/>
<rect x="453.23" y="25.44" width="2" height="2" fill="#151515"/>
<rect x="455.24" y="30.26" width="2" height="2" fill="#151515"/>
<rect x="455.03" y="34.83" width="2" height="2" fill="#151515"/>
<rect x="458.71" y="38.16" width="2" height="2" fill="#151515"/>
<rect x="459.55" y="42.24" width="2" height="2" fill="#151515"/>
<rect x="459.85" y="46.38" width="2" height="2" fill="#151515"/>
<rect x="461.59" y="50.22" width="2" height="2" fill="#151515"/>
<rect x="462.14" y="54.58" width="2" height="2" fill="#151515"/>
<rect x="464.53" y="58.5" width="2" height="2" fill="#151515"/>
<rect x="465.29" y="63.07" width="2" height="2" fill="#151515"/>
<rect x="465.8" y="66.16" width="2" height="2" fill="#151515"/>
<rect x="466.93" y="69.13" width="2" height="2" fill="#151515"/>
<rect x="469.51" y="73.53" width="2" height="2" fill="#151515"/>
<rect x="470.47" y="78.8" width="2" height="2" fill="#151515"/>
<rect x="472.2" y="82.02" width="2" height="2" fill="#151515"/>
<rect x="472.64" y="87.6" width="2" height="2" fill="#151515"/>
<rect x="475.52" y="92.51" width="2" height="2" fill="#151515"/>
<rect x="477.26" y="97.61" width="2" height="2" fill="#151515"/>
<rect x="479.74" y="101.54" width="2" height="2" fill="#151515"/>
<rect x="479.55" y="105.67" width="2" height="2" fill="#151515"/>
<rect x="481.68" y="109.19" width="2" height="2" fill="#151515"/>
<rect x="483.13" y="113.64" width="2" height="2" fill="#151515"/>
<rect x="484.81" y="118.39" width="2" height="2" fill="#151515"/>
<rect x="485.45" y="122.32" width="2" height="2" fill="#151515"/>
<rect x="486.68" y="126.18" width="2" height="2" fill="#151515"/>
<rect x="487.65" y="130.19" width="2" height="2" fill="#151515"/>
<rect x="487.33" y="134.27" width="2" height="2" fill="#151515"/>
<rect x="487.77" y="137.66" width="2" height="2" fill="#151515"/>
<rect x="489.81" y="141.18" width="2" height="2" fill="#151515"/>
<rect x="493.73" y="150.79" width="2" height="2" fill="#151515"/>
<rect x="495.28" y="153.46" width="2" height="2" fill="#151515"/>
<rect x="497.05" y="156.7" width="2" height="2" fill="#151515"/>
<rect x="499.4" y="159.73" width="2" height="2" fill="#151515"/>
<rect x="501.86" y="162.72" width="2" height="2" fill="#151515"/>
<rect x="504.52" y="164.88" width="2" height="2" fill="#151515"/>
<rect x="508.3" y="167.1" width="2" height="2" fill="#151515"/>
<rect x="511.89" y="167.74" width="2" height="2" fill="#151515"/>
<rect x="515.32" y="170.38" width="2" height="2" fill="#151515"/>
<rect x="518.96" y="168.81" width="2" height="2" fill="#151515"/>
<rect x="522.95" y="171.12" width="2" height="2" fill="#151515"/>
<rect x="526.51" y="166.2" width="2" height="2" fill="#151515"/>
<rect x="530.47" y="171.1" width="2" height="2" fill="#151515"/>
<rect x="534.49" y="169.22" width="2" height="2" fill="#151515"/>
<rect x="538.01" y="165.52" width="2" height="2" fill="#151515"/>
<rect x="326.7" y="141.4" width="2" height="2" fill="#151515"/>
<rect x="330.3" y="139.7" width="2" height="2" fill="#151515"/>
<rect x="334.9" y="144.6" width="2" height="2" fill="#151515"/>
<rect x="338.2" y="145" width="2" height="2" fill="#151515"/>
<rect x="342" y="144.1" width="2" height="2" fill="#151515"/>
<rect x="346.9" y="138.4" width="2" height="2" fill="#151515"/>
<rect x="351.5" y="142" width="2" height="2" fill="#151515"/>
<rect x="355.6" y="139.5" width="2" height="2" fill="#151515"/>
<rect x="358.9" y="137.8" width="2" height="2" fill="#151515"/>
<rect x="362.2" y="135.9" width="2" height="2" fill="#151515"/>
<rect x="523.5" y="168.6" width="2" height="2" fill="#151515"/>
<rect x="527" y="169.4" width="2" height="2" fill="#151515"/>
<rect x="530.6" y="169.1" width="2" height="2" fill="#151515"/>
<rect x="534" y="168.8" width="2" height="2" fill="#151515"/>
<rect x="536.7" y="168.6" width="2" height="2" fill="#151515"/>
<rect x="519.5" y="167.9" width="2" height="2" fill="#151515"/>
<rect x="515.5" y="167.2" width="2" height="2" fill="#151515"/>
<path d="M325,143.7 L325.5,143.7 L326,143.7 L326.5,143.71 L327,143.71 L327.5,143.71 L328,143.71 L328.5,143.71 L329,143.72 L329.5,143.72 L330,143.72 L330.5,143.72 L331,143.72 L331.5,143.72 L332,143.73 L332.5,143.73 L333,143.73 L333.5,143.73 L334,143.73 L334.5,143.73 L335,143.73 L335.5,143.73 L336,143.72 L336.5,143.72 L337,143.72 L337.5,143.72 L338,143.71 L338.5,143.71 L339,143.7 L339.5,143.7 L340,143.69 L340.5,143.68 L341,143.67 L341.5,143.66 L342,143.64 L342.5,143.63 L343,143.61 L343.5,143.59 L344,143.57 L344.5,143.55 L345,143.52 L345.5,143.49 L346,143.45 L346.5,143.42 L347,143.38 L347.5,143.33 L348,143.28 L348.5,143.23 L349,143.17 L349.5,143.1 L350,143.03 L350.5,142.95 L351,142.87 L351.5,142.78 L352,142.68 L352.5,142.57 L353,142.46 L353.5,142.34 L354,142.2 L354.5,142.06 L355,141.91 L355.5,141.74 L356,141.57 L356.5,141.38 L357,141.18 L357.5,140.97 L358,140.75 L358.5,140.52 L359,140.27 L359.5,140.01 L360,139.73 L360.5,139.44 L361,139.14 L361.5,138.82 L362,138.49 L362.5,138.14 L363,137.78 L363.5,137.41 L364,137.02 L364.5,136.62 L365,136.21 L365.5,135.78 L366,135.35 L366.5,134.9 L367,134.44 L367.5,133.97 L368,133.49 L368.5,133.01 L369,132.51 L369.5,132.01 L370,131.51 L370.5,131 L371,130.5 L371.5,129.99 L372,129.48 L372.5,128.97 L373,128.47 L373.5,127.98 L374,127.49 L374.5,127.01 L375,126.54 L375.5,126.08 L376,125.63 L376.5,125.21 L377,124.79 L377.5,124.4 L378,124.03 L378.5,123.37 L380.6,121.6 L381.04,121.28 L381.63,120.84 L382.32,120.33 L383.09,119.76 L383.92,119.16 L384.76,118.56 L385.6,118 L386.4,117.5 L387.19,117.05 L388.01,116.62 L388.85,116.2 L389.7,115.8 L390.54,115.4 L391.36,115.01 L392.15,114.61 L392.9,114.2 L393.6,113.8 L394.26,113.43 L394.89,113.07 L395.5,112.7 L396.1,112.31 L396.69,111.89 L397.29,111.43 L397.9,110.9 L398.52,110.3 L399.13,109.65 L399.74,108.94 L400.36,108.21 L400.97,107.45 L401.58,106.69 L402.19,105.93 L402.8,105.2 L403.41,104.48 L404.03,103.77 L404.64,103.06 L405.25,102.35 L405.86,101.63 L406.48,100.9 L407.09,100.16 L407.7,99.4 L408.31,98.63 L408.92,97.87 L409.53,97.09 L410.14,96.31 L410.76,95.5 L411.37,94.67 L411.98,93.8 L412.6,92.9 L413.23,91.95 L413.86,90.95 L414.51,89.91 L415.15,88.86 L415.79,87.78 L416.41,86.71 L417.02,85.65 L417.6,84.6 L418.16,83.59 L418.7,82.59 L419.22,81.61 L419.73,80.63 L420.22,79.63 L420.72,78.6 L421.21,77.53 L421.7,76.4 L422.19,75.22 L422.68,74.01 L423.16,72.77 L423.64,71.49 L424.11,70.18 L424.58,68.83 L425.04,67.43 L425.5,66 L425.95,64.5 L426.39,62.91 L426.83,61.28 L427.26,59.61 L427.69,57.93 L428.13,56.27 L428.56,54.65 L429,53.1 L429.45,51.61 L429.9,50.16 L430.35,48.75 L430.8,47.35 L431.25,45.97 L431.7,44.59 L432.15,43.2 L432.6,41.8 L433.04,40.38 L433.47,38.94 L433.89,37.5 L434.31,36.06 L434.74,34.63 L435.18,33.22 L435.63,31.84 L436.1,30.5 L436.6,29.16 L437.13,27.8 L437.68,26.44 L438.24,25.11 L438.79,23.85 L439.33,22.67 L439.83,21.61 L440.3,20.7 L440.73,19.94 L441.13,19.32 L441.5,18.82 L441.86,18.4 L442.2,18.05 L442.53,17.75 L442.87,17.47 L443.2,17.2 L443.53,16.94 L443.85,16.73 L444.16,16.55 L444.47,16.42 L444.77,16.32 L445.08,16.25 L445.39,16.21 L445.7,16.2 L446.02,16.21 L446.34,16.25 L446.67,16.32 L446.99,16.42 L447.32,16.55 L447.65,16.73 L447.97,16.94 L448.3,17.2 L448.62,17.48 L448.93,17.78 L449.24,18.11 L449.54,18.49 L449.86,18.92 L450.19,19.42 L450.53,20.01 L450.9,20.7 L451.29,21.5 L451.71,22.4 L452.15,23.39 L452.59,24.46 L453.05,25.57 L453.5,26.73 L453.96,27.91 L454.4,29.1 L454.84,30.32 L455.29,31.6 L455.74,32.91 L456.19,34.26 L456.64,35.63 L457.07,37 L457.5,38.36 L457.9,39.7 L458.28,41.02 L458.63,42.34 L458.97,43.65 L459.29,44.96 L459.62,46.28 L459.96,47.61 L460.32,48.95 L460.7,50.3 L461.11,51.67 L461.54,53.04 L461.98,54.42 L462.43,55.81 L462.89,57.22 L463.36,58.63 L463.83,60.06 L464.3,61.5 L464.77,62.95 L465.24,64.41 L465.71,65.88 L466.19,67.36 L466.68,68.85 L467.18,70.38 L467.68,71.92 L468.2,73.5 L468.73,75.12 L469.27,76.77 L469.81,78.45 L470.37,80.16 L470.93,81.87 L471.51,83.59 L472.1,85.3 L472.7,87 L473.33,88.71 L473.99,90.45 L474.67,92.21 L475.36,93.96 L476.04,95.69 L476.7,97.36 L477.33,98.98 L477.9,100.5 L478.42,101.91 L478.89,103.21 L479.33,104.44 L479.75,105.63 L480.15,106.8 L480.56,108 L480.97,109.26 L481.4,110.6 L481.85,112.03 L482.3,113.52 L482.75,115.05 L483.2,116.61 L483.65,118.19 L484.1,119.85 L484.55,121.75 L485,123.66 L485.45,125.6 L485.91,127.59 L486.38,129.61 L486.84,131.61 L487.29,133.55 L487.73,135.41 L488.13,137.14 L488.5,138.72 L488.83,140.12 L489.13,141.37 L489.4,142.51" fill="none" stroke="#f01818" stroke-width="2.8" stroke-linejoin="round" stroke-linecap="round" />
<path d="M325,143.7 L325.5,143.7 L326,143.71 L326.5,143.71 L327,143.71 L327.5,143.71 L328,143.72 L328.5,143.72 L329,143.72 L329.5,143.72 L330,143.73 L330.5,143.73 L331,143.73 L331.5,143.73 L332,143.74 L332.5,143.74 L333,143.74 L333.5,143.74 L334,143.75 L334.5,143.75 L335,143.75 L335.5,143.75 L336,143.75 L336.5,143.76 L337,143.76 L337.5,143.76 L338,143.76 L338.5,143.77 L339,143.77 L339.5,143.77 L340,143.77 L340.5,143.78 L341,143.78 L341.5,143.78 L342,143.79 L342.5,143.79 L343,143.79 L343.5,143.79 L344,143.8 L344.5,143.8 L345,143.8 L345.5,143.8 L346,143.81 L346.5,143.81 L347,143.81 L347.5,143.82 L348,143.82 L348.5,143.82 L349,143.82 L349.5,143.83 L350,143.83 L350.5,143.83 L351,143.84 L351.5,143.84 L352,143.84 L352.5,143.85 L353,143.85 L353.5,143.85 L354,143.85 L354.5,143.86 L355,143.86 L355.5,143.86 L356,143.87 L356.5,143.87 L357,143.88 L357.5,143.88 L358,143.88 L358.5,143.89 L359,143.89 L359.5,143.9 L360,143.9 L360.5,143.9 L361,143.91 L361.5,143.91 L362,143.92 L362.5,143.92 L363,143.93 L363.5,143.93 L364,143.94 L364.5,143.94 L365,143.95 L365.5,143.95 L366,143.96 L366.5,143.96 L367,143.97 L367.5,143.97 L368,143.98 L368.5,143.98 L369,143.99 L369.5,144 L370,144 L370.5,144.01 L371,144.02 L371.5,144.02 L372,144.03 L372.5,144.04 L373,144.05 L373.5,144.05 L374,144.06 L374.5,144.07 L375,144.08 L375.5,144.09 L376,144.1 L376.5,144.11 L377,144.12 L377.5,144.13 L378,144.15 L378.5,144.16 L379,144.17 L379.5,144.19 L380,144.2 L380.5,144.22 L381,144.23 L381.5,144.25 L382,144.26 L382.5,144.28 L383,144.29 L383.5,144.31 L384,144.33 L384.5,144.35 L385,144.37 L385.5,144.39 L386,144.41 L386.5,144.43 L387,144.45 L387.5,144.47 L388,144.5 L388.5,144.52 L389,144.55 L389.5,144.57 L390,144.6 L390.5,144.63 L391,144.65 L391.5,144.68 L392,144.71 L392.5,144.74 L393,144.77 L393.5,144.8 L394,144.84 L394.5,144.87 L395,144.9 L395.5,144.93 L396,144.97 L396.5,145 L397,145.04 L397.5,145.07 L398,145.11 L398.5,145.14 L399,145.18 L399.5,145.22 L400,145.26 L400.5,145.3 L401,145.33 L401.5,145.37 L402,145.42 L402.5,145.46 L403,145.5 L403.5,145.54 L404,145.58 L404.5,145.63 L405,145.67 L405.5,145.72 L406,145.77 L406.5,145.82 L407,145.87 L407.5,145.92 L408,145.97 L408.5,146.03 L409,146.08 L409.5,146.14 L410,146.2 L410.5,146.27 L411,146.33 L411.5,146.4 L412,146.47 L412.5,146.55 L413,146.63 L413.5,146.71 L414,146.8 L414.5,146.89 L415,146.98 L415.5,147.08 L416,147.18 L416.5,147.28 L417,147.38 L417.5,147.49 L418,147.59 L418.5,147.69 L419,147.8 L419.5,147.9 L420,148 L420.5,148.1 L421,148.2 L421.5,148.3 L422,148.4 L422.5,148.5 L423,148.6 L423.5,148.7 L424,148.81 L424.5,148.91 L425,149.01 L425.5,149.11 L426,149.22 L426.5,149.32 L427,149.42 L427.5,149.53 L428,149.63 L428.5,149.74 L429,149.84 L429.5,149.95 L430,150.05 L430.5,150.16 L431,150.26 L431.5,150.37 L432,150.47 L432.5,150.58 L433,150.68 L433.5,150.79 L434,150.9 L434.5,151 L435,151.1 L435.5,151.21 L436,151.31 L436.5,151.4 L437,151.5 L437.5,151.59 L438,151.68 L438.5,151.76 L439,151.84 L439.5,151.92 L440,151.99 L440.5,152.06 L441,152.13 L441.5,152.19 L442,152.24 L442.5,152.29 L443,152.33 L443.5,152.36 L444,152.38 L444.5,152.39 L445,152.39 L445.5,152.37 L446,152.34 L446.5,152.3 L447,152.24 L447.5,152.15 L448,152.04 L448.5,151.91 L449,151.75 L449.5,151.56 L450,151.34 L450.5,151.08 L451,150.78 L451.5,150.45 L452,150.07 L452.5,149.65 L453,149.19 L453.5,148.68 L454,148.12 L454.5,147.52 L455,146.86 L455.5,146.15 L456,145.4 L456.5,144.59 L457,143.73 L457.5,142.83 L458,141.89 L458.5,140.9 L459,139.88 L459.5,138.82 L460,137.72 L460.5,136.59 L461,135.44 L461.5,134.26 L462,133.07 L462.5,131.86 L463,130.64 L463.5,129.43 L464,128.21 L464.5,127 L465,125.8 L465.5,124.62 L466,123.47 L466.5,122.36 L467,121.28 L467.5,120.24 L468,119.26 L468.5,118.33 L469,117.46 L469.5,116.66 L470,115.93 L470.5,115.28 L471,114.71 L471.5,114.22 L472,113.82 L472.5,113.51 L473,113.3 L473.5,113.18 L474,113.17 L474.5,113.25 L475,113.41 L475.5,113.66 L476,114 L476.5,114.41 L477,114.9 L477.5,115.47 L478,116.12 L478.5,116.84 L479,117.63 L479.5,118.49 L480,119.4 L480.5,120.38 L481,121.42 L481.5,122.5 L482,123.64 L482.5,124.81 L483,126.03 L483.5,127.28 L484,128.55 L484.5,129.85 L485,131.17 L485.5,132.5 L486,133.84 L486.5,135.18 L487,136.53 L487.5,137.87 L488,139.2 L488.5,140.52 L489,141.82 L489.5,143.1 L490,144.36 L490.5,145.59 L491,146.79 L491.5,147.96 L492,149.1 L492.5,150.21 L493,151.27 L493.5,152.3 L494,153.3 L494.5,154.25 L495,155.17 L495.5,156.04 L496,156.87 L496.5,157.66 L497,158.4 L497.5,159.11 L498,159.77 L498.5,160.4 L499,160.99 L499.5,161.55 L500,162.07 L500.5,162.56 L501,163.01 L501.5,163.44 L502,163.84 L502.5,164.21 L503,164.55 L503.5,164.87 L504,165.16 L504.5,165.44 L505,165.69 L505.5,165.92 L506,166.13 L506.5,166.33 L507,166.51 L507.5,166.67 L508,166.82 L508.5,166.96 L509,167.08 L509.5,167.19 L510,167.29 L510.5,167.38 L511,167.47 L511.5,167.54 L512,167.61 L512.5,167.67 L513,167.73 L513.5,167.78 L514,167.82 L514.5,167.86 L515,167.9 L515.5,167.93 L516,167.96 L516.5,167.98 L517,168.01 L517.5,168.03 L518,168.05 L518.5,168.06 L519,168.08 L519.5,168.09 L520,168.11 L520.5,168.12 L521,168.13 L521.5,168.14 L522,168.15 L522.5,168.15 L523,168.16 L523.5,168.17 L524,168.17 L524.5,168.18 L525,168.19 L525.5,168.19 L526,168.2 L526.5,168.2 L527,168.21 L527.5,168.21 L528,168.21 L528.5,168.22 L529,168.22 L529.5,168.23 L530,168.23 L530.5,168.23 L531,168.24 L531.5,168.24 L532,168.25 L532.5,168.25 L533,168.25 L533.5,168.26 L534,168.26 L534.5,168.26 L535,168.27 L535.5,168.27 L536,168.27 L536.5,168.28 L537,168.28 L537.5,168.29 L538,168.29 L538.5,168.29 L539,168.3" fill="none" stroke="#ff10ff" stroke-width="2.4" stroke-linejoin="round" stroke-linecap="round" />
<path d="M325,143.7 L325.5,143.7 L326,143.71 L326.5,143.71 L327,143.71 L327.5,143.71 L328,143.72 L328.5,143.72 L329,143.72 L329.5,143.72 L330,143.73 L330.5,143.73 L331,143.73 L331.5,143.73 L332,143.74 L332.5,143.74 L333,143.74 L333.5,143.74 L334,143.75 L334.5,143.75 L335,143.75 L335.5,143.75 L336,143.75 L336.5,143.76 L337,143.76 L337.5,143.76 L338,143.76 L338.5,143.77 L339,143.77 L339.5,143.77 L340,143.77 L340.5,143.78 L341,143.78 L341.5,143.78 L342,143.79 L342.5,143.79 L343,143.79 L343.5,143.79 L344,143.8 L344.5,143.8 L345,143.8 L345.5,143.8 L346,143.81 L346.5,143.81 L347,143.81 L347.5,143.82 L348,143.82 L348.5,143.82 L349,143.82 L349.5,143.83 L350,143.83 L350.5,143.83 L351,143.84 L351.5,143.84 L352,143.84 L352.5,143.85 L353,143.85 L353.5,143.85 L354,143.85 L354.5,143.86 L355,143.86 L355.5,143.86 L356,143.87 L356.5,143.87 L357,143.88 L357.5,143.88 L358,143.88 L358.5,143.89 L359,143.89 L359.5,143.9 L360,143.9 L360.5,143.9 L361,143.91 L361.5,143.91 L362,143.92 L362.5,143.92 L363,143.93 L363.5,143.93 L364,143.94 L364.5,143.94 L365,143.95 L365.5,143.95 L366,143.96 L366.5,143.96 L367,143.97 L367.5,143.97 L368,143.98 L368.5,143.98 L369,143.99 L369.5,144 L370,144 L370.5,144.01 L371,144.02 L371.5,144.02 L372,144.03 L372.5,144.04 L373,144.05 L373.5,144.05 L374,144.06 L374.5,144.07 L375,144.08 L375.5,144.09 L376,144.1 L376.5,144.11 L377,144.12 L377.5,144.13 L378,144.15 L378.5,144.16 L379,144.17 L379.5,144.19 L380,144.2 L380.5,144.22 L381,144.23 L381.5,144.25 L382,144.26 L382.5,144.28 L383,144.29 L383.5,144.31 L384,144.33 L384.5,144.35 L385,144.37 L385.5,144.39 L386,144.41 L386.5,144.43 L387,144.45 L387.5,144.47 L388,144.49 L388.5,144.52 L389,144.54 L389.5,144.57 L390,144.59 L390.5,144.62 L391,144.65 L391.5,144.67 L392,144.7 L392.5,144.73 L393,144.76 L393.5,144.79 L394,144.81 L394.5,144.84 L395,144.87 L395.5,144.9 L396,144.93 L396.5,144.95 L397,144.98 L397.5,145.01 L398,145.03 L398.5,145.06 L399,145.08 L399.5,145.1 L400,145.12 L400.5,145.13 L401,145.15 L401.5,145.16 L402,145.16 L402.5,145.17 L403,145.16 L403.5,145.16 L404,145.15 L404.5,145.13 L405,145.1 L405.5,145.07 L406,145.02 L406.5,144.97 L407,144.91 L407.5,144.83 L408,144.74 L408.5,144.64 L409,144.52 L409.5,144.38 L410,144.22 L410.5,144.05 L411,143.85 L411.5,143.63 L412,143.38 L412.5,143.11 L413,142.8 L413.5,142.46 L414,142.09 L414.5,141.68 L415,141.23 L415.5,140.74 L416,140.2 L416.5,139.62 L417,138.98 L417.5,138.28 L418,137.53 L418.5,136.71 L419,135.83 L419.5,134.88 L420,133.86 L420.5,132.77 L421,131.61 L421.5,130.37 L422,129.06 L422.5,127.68 L423,126.21 L423.5,124.67 L424,123.06 L424.5,121.37 L425,119.6 L425.5,117.76 L426,115.85 L426.5,113.87 L427,111.82 L427.5,109.71 L428,107.54 L428.5,105.31 L429,103.03 L429.5,100.71 L430,98.35 L430.5,95.96 L431,93.55 L431.5,91.12 L432,88.68 L432.5,86.24 L433,83.8 L433.5,81.39 L434,79 L434.5,76.65 L435,74.34 L435.5,72.09 L436,69.9 L436.5,67.79 L437,65.76 L437.5,63.82 L438,61.99 L438.5,60.27 L439,58.68 L439.5,57.21 L440,55.88 L440.5,54.7 L441,53.67 L441.5,52.8 L442,52.09 L442.5,51.55 L443,51.19 L443.5,51 L444,50.98 L444.5,51.14 L445,51.47 L445.5,51.95 L446,52.58 L446.5,53.38 L447,54.33 L447.5,55.41 L448,56.65 L448.5,58.03 L449,59.53 L449.5,61.16 L450,62.91 L450.5,64.77 L451,66.74 L451.5,68.81 L452,70.96 L452.5,73.19 L453,75.5 L453.5,77.87 L454,80.3 L454.5,82.77 L455,85.28 L455.5,87.82 L456,90.38 L456.5,92.95 L457,95.53 L457.5,98.11 L458,100.68 L458.5,103.24 L459,105.78 L459.5,108.3 L460,110.79 L460.5,113.24 L461,115.64 L461.5,118 L462,120.32 L462.5,122.57 L463,124.77 L463.5,126.91 L464,128.99 L464.5,131 L465,132.95 L465.5,134.83 L466,136.64 L466.5,138.38 L467,140.05 L467.5,141.65 L468,143.19 L468.5,144.65 L469,146.05 L469.5,147.38 L470,148.64 L470.5,149.84 L471,150.97 L471.5,152.05 L472,153.06 L472.5,154.02 L473,154.92 L473.5,155.77 L474,156.57 L474.5,157.32 L475,158.03 L475.5,158.69 L476,159.31 L476.5,159.89 L477,160.43 L477.5,160.94 L478,161.41 L478.5,161.85 L479,162.27 L479.5,162.66 L480,163.02 L480.5,163.35 L481,163.67 L481.5,163.96 L482,164.24 L482.5,164.5 L483,164.75 L483.5,164.97 L484,165.19 L484.5,165.39 L485,165.58 L485.5,165.76 L486,165.93 L486.5,166.09 L487,166.24 L487.5,166.38 L488,166.51 L488.5,166.64 L489,166.75 L489.5,166.86 L490,166.96 L490.5,167.05 L491,167.14 L491.5,167.23 L492,167.3 L492.5,167.37 L493,167.44 L493.5,167.5 L494,167.56 L494.5,167.61 L495,167.66 L495.5,167.7 L496,167.74 L496.5,167.78 L497,167.8 L497.5,167.83 L498,167.85 L498.5,167.86 L499,167.88 L499.5,167.89 L500,167.9 L500.5,167.92 L501,167.93 L501.5,167.93 L502,167.94 L502.5,167.95 L503,167.96 L503.5,167.97 L504,167.98 L504.5,167.99 L505,168 L505.5,168.01 L506,168.01 L506.5,168.02 L507,168.03 L507.5,168.03 L508,168.04 L508.5,168.05 L509,168.05 L509.5,168.06 L510,168.07 L510.5,168.07 L511,168.08 L511.5,168.08 L512,168.09 L512.5,168.09 L513,168.1 L513.5,168.1 L514,168.11 L514.5,168.11 L515,168.12 L515.5,168.12 L516,168.12 L516.5,168.13 L517,168.13 L517.5,168.14 L518,168.14 L518.5,168.15 L519,168.15 L519.5,168.15 L520,168.16 L520.5,168.16 L521,168.17 L521.5,168.17 L522,168.17 L522.5,168.18 L523,168.18 L523.5,168.19 L524,168.19 L524.5,168.19 L525,168.2 L525.5,168.2 L526,168.2 L526.5,168.21 L527,168.21 L527.5,168.21 L528,168.22 L528.5,168.22 L529,168.23 L529.5,168.23 L530,168.23 L530.5,168.24 L531,168.24 L531.5,168.24 L532,168.25 L532.5,168.25 L533,168.25 L533.5,168.26 L534,168.26 L534.5,168.26 L535,168.27 L535.5,168.27 L536,168.27 L536.5,168.28 L537,168.28 L537.5,168.29 L538,168.29 L538.5,168.29 L539,168.3" fill="none" stroke="#0c0c80" stroke-width="2.4" stroke-linejoin="round" stroke-linecap="round" />
<path d="M325,143.7 L325.5,143.7 L326,143.71 L326.5,143.71 L327,143.71 L327.5,143.71 L328,143.72 L328.5,143.72 L329,143.72 L329.5,143.72 L330,143.73 L330.5,143.73 L331,143.73 L331.5,143.73 L332,143.74 L332.5,143.74 L333,143.74 L333.5,143.74 L334,143.75 L334.5,143.75 L335,143.75 L335.5,143.75 L336,143.75 L336.5,143.76 L337,143.76 L337.5,143.76 L338,143.76 L338.5,143.77 L339,143.77 L339.5,143.77 L340,143.77 L340.5,143.78 L341,143.78 L341.5,143.78 L342,143.79 L342.5,143.79 L343,143.79 L343.5,143.79 L344,143.8 L344.5,143.8 L345,143.8 L345.5,143.8 L346,143.81 L346.5,143.81 L347,143.81 L347.5,143.81 L348,143.82 L348.5,143.82 L349,143.82 L349.5,143.83 L350,143.83 L350.5,143.83 L351,143.83 L351.5,143.84 L352,143.84 L352.5,143.84 L353,143.84 L353.5,143.85 L354,143.85 L354.5,143.85 L355,143.85 L355.5,143.86 L356,143.86 L356.5,143.86 L357,143.86 L357.5,143.87 L358,143.87 L358.5,143.87 L359,143.87 L359.5,143.87 L360,143.87 L360.5,143.87 L361,143.87 L361.5,143.87 L362,143.87 L362.5,143.87 L363,143.86 L363.5,143.86 L364,143.85 L364.5,143.85 L365,143.84 L365.5,143.83 L366,143.82 L366.5,143.81 L367,143.79 L367.5,143.78 L368,143.76 L368.5,143.74 L369,143.72 L369.5,143.69 L370,143.66 L370.5,143.63 L371,143.59 L371.5,143.55 L372,143.5 L372.5,143.45 L373,143.39 L373.5,143.33 L374,143.27 L374.5,143.19 L375,143.11 L375.5,143.02 L376,142.92 L376.5,142.82 L377,142.7 L377.5,142.58 L378,142.44 L378.5,142.29 L379,142.13 L379.5,141.96 L380,141.78 L380.5,141.58 L381,141.37 L381.5,141.14 L382,140.89 L382.5,140.63 L383,140.35 L383.5,140.06 L384,139.74 L384.5,139.41 L385,139.05 L385.5,138.68 L386,138.28 L386.5,137.87 L387,137.43 L387.5,136.97 L388,136.49 L388.5,135.98 L389,135.46 L389.5,134.91 L390,134.33 L390.5,133.74 L391,133.12 L391.5,132.48 L392,131.82 L392.5,131.14 L393,130.44 L393.5,129.72 L394,128.98 L394.5,128.23 L395,127.45 L395.5,126.66 L396,125.86 L396.5,125.05 L397,124.22 L397.5,123.39 L398,122.54 L398.5,121.7 L399,120.85 L399.5,120 L400,119.15 L400.5,118.3 L401,117.46 L401.5,116.63 L402,115.81 L402.5,115.01 L403,114.22 L403.5,113.45 L404,112.7 L404.5,111.98 L405,111.28 L405.5,110.62 L406,109.98 L406.5,109.38 L407,108.82 L407.5,108.29 L408,107.81 L408.5,107.37 L409,106.97 L409.5,106.62 L410,106.32 L410.5,106.08 L411,105.88 L411.5,105.74 L412,105.65 L412.5,105.61 L413,105.64 L413.5,105.72 L414,105.87 L414.5,106.1 L415,106.4 L415.5,106.79 L416,107.24 L416.5,107.76 L417,108.35 L417.5,109 L418,109.72 L418.5,110.49 L419,111.31 L419.5,112.18 L420,113.1 L420.5,114.06 L421,115.06 L421.5,116.1 L422,117.16 L422.5,118.25 L423,119.36 L423.5,120.49 L424,121.63 L424.5,122.78 L425,123.94 L425.5,125.09 L426,126.25 L426.5,127.4 L427,128.53 L427.5,129.66 L428,130.77 L428.5,131.87 L429,132.94 L429.5,133.99 L430,135.01 L430.5,136.01 L431,136.98 L431.5,137.93 L432,138.84 L432.5,139.72 L433,140.57 L433.5,141.39 L434,142.18 L434.5,142.94 L435,143.66 L435.5,144.36 L436,145.02 L436.5,145.65 L437,146.25 L437.5,146.83 L438,147.38 L438.5,147.89 L439,148.39 L439.5,148.87 L440,149.32 L440.5,149.75 L441,150.17 L441.5,150.57 L442,150.95 L442.5,151.32 L443,151.68 L443.5,152.02 L444,152.36 L444.5,152.69 L445,153.01 L445.5,153.32 L446,153.63 L446.5,153.93 L447,154.24 L447.5,154.53 L448,154.83 L448.5,155.12 L449,155.4 L449.5,155.69 L450,155.97 L450.5,156.24 L451,156.51 L451.5,156.77 L452,157.03 L452.5,157.28 L453,157.53 L453.5,157.78 L454,158.01 L454.5,158.24 L455,158.47 L455.5,158.68 L456,158.88 L456.5,159.09 L457,159.28 L457.5,159.46 L458,159.65 L458.5,159.83 L459,160 L459.5,160.18 L460,160.35 L460.5,160.51 L461,160.68 L461.5,160.84 L462,160.99 L462.5,161.15 L463,161.3 L463.5,161.45 L464,161.59 L464.5,161.74 L465,161.88 L465.5,162.02 L466,162.16 L466.5,162.3 L467,162.43 L467.5,162.57 L468,162.7 L468.5,162.83 L469,162.96 L469.5,163.08 L470,163.21 L470.5,163.33 L471,163.45 L471.5,163.57 L472,163.68 L472.5,163.8 L473,163.91 L473.5,164.02 L474,164.13 L474.5,164.25 L475,164.35 L475.5,164.46 L476,164.57 L476.5,164.67 L477,164.78 L477.5,164.88 L478,164.98 L478.5,165.08 L479,165.18 L479.5,165.29 L480,165.38 L480.5,165.48 L481,165.58 L481.5,165.68 L482,165.77 L482.5,165.87 L483,165.97 L483.5,166.06 L484,166.16 L484.5,166.25 L485,166.35 L485.5,166.44 L486,166.53 L486.5,166.62 L487,166.71 L487.5,166.79 L488,166.87 L488.5,166.95 L489,167.03 L489.5,167.1 L490,167.18 L490.5,167.24 L491,167.31 L491.5,167.37 L492,167.42 L492.5,167.48 L493,167.53 L493.5,167.58 L494,167.63 L494.5,167.67 L495,167.71 L495.5,167.75 L496,167.78 L496.5,167.81 L497,167.83 L497.5,167.85 L498,167.87 L498.5,167.88 L499,167.89 L499.5,167.9 L500,167.91 L500.5,167.92 L501,167.93 L501.5,167.94 L502,167.95 L502.5,167.96 L503,167.97 L503.5,167.97 L504,167.98 L504.5,167.99 L505,168 L505.5,168.01 L506,168.01 L506.5,168.02 L507,168.03 L507.5,168.04 L508,168.04 L508.5,168.05 L509,168.05 L509.5,168.06 L510,168.07 L510.5,168.07 L511,168.08 L511.5,168.08 L512,168.09 L512.5,168.09 L513,168.1 L513.5,168.1 L514,168.11 L514.5,168.11 L515,168.12 L515.5,168.12 L516,168.12 L516.5,168.13 L517,168.13 L517.5,168.14 L518,168.14 L518.5,168.15 L519,168.15 L519.5,168.15 L520,168.16 L520.5,168.16 L521,168.17 L521.5,168.17 L522,168.17 L522.5,168.18 L523,168.18 L523.5,168.19 L524,168.19 L524.5,168.19 L525,168.2 L525.5,168.2 L526,168.2 L526.5,168.21 L527,168.21 L527.5,168.21 L528,168.22 L528.5,168.22 L529,168.23 L529.5,168.23 L530,168.23 L530.5,168.24 L531,168.24 L531.5,168.24 L532,168.25 L532.5,168.25 L533,168.25 L533.5,168.26 L534,168.26 L534.5,168.26 L535,168.27 L535.5,168.27 L536,168.27 L536.5,168.28 L537,168.28 L537.5,168.29 L538,168.29 L538.5,168.29 L539,168.3" fill="none" stroke="#7a0f86" stroke-width="2.4" stroke-linejoin="round" stroke-linecap="round" />
<path d="M325,143.7 L325.5,143.7 L326,143.7 L326.5,143.71 L327,143.71 L327.5,143.71 L328,143.71 L328.5,143.71 L329,143.72 L329.5,143.72 L330,143.72 L330.5,143.72 L331,143.72 L331.5,143.72 L332,143.73 L332.5,143.73 L333,143.73 L333.5,143.73 L334,143.73 L334.5,143.73 L335,143.73 L335.5,143.73 L336,143.72 L336.5,143.72 L337,143.72 L337.5,143.72 L338,143.71 L338.5,143.71 L339,143.7 L339.5,143.7 L340,143.69 L340.5,143.68 L341,143.67 L341.5,143.66 L342,143.64 L342.5,143.63 L343,143.61 L343.5,143.59 L344,143.57 L344.5,143.55 L345,143.52 L345.5,143.49 L346,143.45 L346.5,143.42 L347,143.38 L347.5,143.33 L348,143.28 L348.5,143.23 L349,143.17 L349.5,143.1 L350,143.03 L350.5,142.95 L351,142.87 L351.5,142.78 L352,142.68 L352.5,142.57 L353,142.46 L353.5,142.34 L354,142.2 L354.5,142.06 L355,141.91 L355.5,141.74 L356,141.57 L356.5,141.38 L357,141.18 L357.5,140.97 L358,140.75 L358.5,140.52 L359,140.27 L359.5,140.01 L360,139.73 L360.5,139.44 L361,139.14 L361.5,138.82 L362,138.49 L362.5,138.14 L363,137.78 L363.5,137.41 L364,137.02 L364.5,136.62 L365,136.21 L365.5,135.78 L366,135.35 L366.5,134.9 L367,134.44 L367.5,133.97 L368,133.49 L368.5,133.01 L369,132.51 L369.5,132.01 L370,131.51 L370.5,131 L371,130.5 L371.5,129.99 L372,129.48 L372.5,128.97 L373,128.47 L373.5,127.98 L374,127.49 L374.5,127.01 L375,126.54 L375.5,126.08 L376,125.63 L376.5,125.21 L377,124.79 L377.5,124.4 L378,124.03 L378.5,123.67 L379,123.35 L379.5,123.04 L380,122.76 L380.5,122.51 L381,122.28 L381.5,122.09 L382,121.92 L382.5,121.78 L383,121.68 L383.5,121.6 L384,121.56 L384.5,121.55 L385,121.57 L385.5,121.63 L386,121.72 L386.5,121.84 L387,122 L387.5,122.18 L388,122.4 L388.5,122.65 L389,122.92 L389.5,123.23 L390,123.56 L390.5,123.92 L391,124.31 L391.5,124.71 L392,125.14 L392.5,125.59 L393,126.06 L393.5,126.55 L394,127.05 L394.5,127.56 L395,128.08 L395.5,128.62 L396,129.16 L396.5,129.71 L397,130.27 L397.5,130.83 L398,131.38 L398.5,131.94 L399,132.5 L399.5,133.06 L400,133.61 L400.5,134.16 L401,134.7 L401.5,135.23 L402,135.76 L402.5,136.27 L403,136.78 L403.5,137.27 L404,137.76 L404.5,138.23 L405,138.69 L405.5,139.13 L406,139.57 L406.5,139.99 L407,140.39 L407.5,140.79 L408,141.17 L408.5,141.54 L409,141.9 L409.5,142.24 L410,142.57 L410.5,142.89 L411,143.2 L411.5,143.5 L412,143.79 L412.5,144.07 L413,144.34 L413.5,144.6 L414,144.86 L414.5,145.11 L415,145.35 L415.5,145.58 L416,145.81 L416.5,146.03 L417,146.24 L417.5,146.45 L418,146.65 L418.5,146.84 L419,147.02 L419.5,147.19 L420,147.36 L420.5,147.52 L421,147.68 L421.5,147.83 L422,147.98 L422.5,148.13 L423,148.27 L423.5,148.4 L424,148.54 L424.5,148.67 L425,148.8 L425.5,148.93 L426,149.05 L426.5,149.18 L427,149.3 L427.5,149.42 L428,149.54 L428.5,149.66 L429,149.78 L429.5,149.89 L430,150.01 L430.5,150.13 L431,150.24 L431.5,150.36 L432,150.48 L432.5,150.6 L433,150.72 L433.5,150.84 L434,150.96 L434.5,151.08 L435,151.21 L435.5,151.33 L436,151.45 L436.5,151.58 L437,151.7 L437.5,151.83 L438,151.95 L438.5,152.08 L439,152.21 L439.5,152.35 L440,152.49 L440.5,152.63 L441,152.77 L441.5,152.93 L442,153.08 L442.5,153.24 L443,153.41 L443.5,153.57 L444,153.75 L444.5,153.93 L445,154.12 L445.5,154.31 L446,154.51 L446.5,154.72 L447,154.93 L447.5,155.15 L448,155.37 L448.5,155.6 L449,155.83 L449.5,156.06 L450,156.29 L450.5,156.52 L451,156.76 L451.5,156.99 L452,157.22 L452.5,157.45 L453,157.68 L453.5,157.9 L454,158.12 L454.5,158.33 L455,158.55 L455.5,158.74 L456,158.94 L456.5,159.14 L457,159.32 L457.5,159.5 L458,159.68 L458.5,159.85 L459,160.03 L459.5,160.2 L460,160.36 L460.5,160.53 L461,160.69 L461.5,160.84 L462,161 L462.5,161.15 L463,161.3 L463.5,161.45 L464,161.6 L464.5,161.74 L465,161.89 L465.5,162.02 L466,162.16 L466.5,162.3 L467,162.43 L467.5,162.57 L468,162.7 L468.5,162.83 L469,162.96 L469.5,163.08 L470,163.21 L470.5,163.33 L471,163.45 L471.5,163.57 L472,163.68 L472.5,163.8 L473,163.91 L473.5,164.02 L474,164.13 L474.5,164.25 L475,164.35 L475.5,164.46 L476,164.57 L476.5,164.67 L477,164.78 L477.5,164.88 L478,164.98 L478.5,165.08 L479,165.18 L479.5,165.29 L480,165.38 L480.5,165.48 L481,165.58 L481.5,165.68 L482,165.77 L482.5,165.87 L483,165.97 L483.5,166.06 L484,166.16 L484.5,166.25 L485,166.35 L485.5,166.44 L486,166.53 L486.5,166.62 L487,166.71 L487.5,166.79 L488,166.87 L488.5,166.95 L489,167.03 L489.5,167.1 L490,167.18 L490.5,167.24 L491,167.31 L491.5,167.37 L492,167.42 L492.5,167.48 L493,167.53 L493.5,167.58 L494,167.63 L494.5,167.67 L495,167.71 L495.5,167.75 L496,167.78 L496.5,167.81 L497,167.83 L497.5,167.85 L498,167.87 L498.5,167.88 L499,167.89 L499.5,167.9 L500,167.91 L500.5,167.92 L501,167.93 L501.5,167.94 L502,167.95 L502.5,167.96 L503,167.97 L503.5,167.97 L504,167.98 L504.5,167.99 L505,168 L505.5,168.01 L506,168.01 L506.5,168.02 L507,168.03 L507.5,168.04 L508,168.04 L508.5,168.05 L509,168.05 L509.5,168.06 L510,168.07 L510.5,168.07 L511,168.08 L511.5,168.08 L512,168.09 L512.5,168.09 L513,168.1 L513.5,168.1 L514,168.11 L514.5,168.11 L515,168.12 L515.5,168.12 L516,168.12 L516.5,168.13 L517,168.13 L517.5,168.14 L518,168.14 L518.5,168.15 L519,168.15 L519.5,168.15 L520,168.16 L520.5,168.16 L521,168.17 L521.5,168.17 L522,168.17 L522.5,168.18 L523,168.18 L523.5,168.19 L524,168.19 L524.5,168.19 L525,168.2 L525.5,168.2 L526,168.2 L526.5,168.21 L527,168.21 L527.5,168.21 L528,168.22 L528.5,168.22 L529,168.23 L529.5,168.23 L530,168.23 L530.5,168.24 L531,168.24 L531.5,168.24 L532,168.25 L532.5,168.25 L533,168.25 L533.5,168.26 L534,168.26 L534.5,168.26 L535,168.27 L535.5,168.27 L536,168.27 L536.5,168.28 L537,168.28 L537.5,168.29 L538,168.29 L538.5,168.29 L539,168.3" fill="none" stroke="#7a0a0a" stroke-width="2.4" stroke-linejoin="round" stroke-linecap="round" />
<path d="M325,143.7 L325.5,143.7 L326,143.71 L326.5,143.71 L327,143.71 L327.5,143.71 L328,143.72 L328.5,143.72 L329,143.72 L329.5,143.72 L330,143.73 L330.5,143.73 L331,143.73 L331.5,143.73 L332,143.74 L332.5,143.74 L333,143.74 L333.5,143.74 L334,143.75 L334.5,143.75 L335,143.75 L335.5,143.75 L336,143.75 L336.5,143.76 L337,143.76 L337.5,143.76 L338,143.76 L338.5,143.77 L339,143.77 L339.5,143.77 L340,143.77 L340.5,143.78 L341,143.78 L341.5,143.78 L342,143.79 L342.5,143.79 L343,143.79 L343.5,143.79 L344,143.8 L344.5,143.8 L345,143.8 L345.5,143.8 L346,143.81 L346.5,143.81 L347,143.81 L347.5,143.82 L348,143.82 L348.5,143.82 L349,143.82 L349.5,143.83 L350,143.83 L350.5,143.83 L351,143.84 L351.5,143.84 L352,143.84 L352.5,143.85 L353,143.85 L353.5,143.85 L354,143.85 L354.5,143.86 L355,143.86 L355.5,143.86 L356,143.87 L356.5,143.87 L357,143.88 L357.5,143.88 L358,143.88 L358.5,143.89 L359,143.89 L359.5,143.9 L360,143.9 L360.5,143.9 L361,143.91 L361.5,143.91 L362,143.92 L362.5,143.92 L363,143.93 L363.5,143.93 L364,143.94 L364.5,143.94 L365,143.95 L365.5,143.95 L366,143.96 L366.5,143.96 L367,143.97 L367.5,143.97 L368,143.98 L368.5,143.98 L369,143.99 L369.5,144 L370,144 L370.5,144.01 L371,144.02 L371.5,144.02 L372,144.03 L372.5,144.04 L373,144.05 L373.5,144.05 L374,144.06 L374.5,144.07 L375,144.08 L375.5,144.09 L376,144.1 L376.5,144.11 L377,144.12 L377.5,144.13 L378,144.15 L378.5,144.16 L379,144.17 L379.5,144.19 L380,144.2 L380.5,144.22 L381,144.23 L381.5,144.25 L382,144.26 L382.5,144.28 L383,144.29 L383.5,144.31 L384,144.33 L384.5,144.35 L385,144.37 L385.5,144.39 L386,144.41 L386.5,144.43 L387,144.45 L387.5,144.47 L388,144.5 L388.5,144.52 L389,144.55 L389.5,144.57 L390,144.6 L390.5,144.63 L391,144.65 L391.5,144.68 L392,144.71 L392.5,144.74 L393,144.77 L393.5,144.8 L394,144.84 L394.5,144.87 L395,144.9 L395.5,144.93 L396,144.97 L396.5,145 L397,145.04 L397.5,145.07 L398,145.11 L398.5,145.14 L399,145.18 L399.5,145.22 L400,145.26 L400.5,145.3 L401,145.33 L401.5,145.37 L402,145.42 L402.5,145.46 L403,145.5 L403.5,145.54 L404,145.58 L404.5,145.63 L405,145.67 L405.5,145.72 L406,145.77 L406.5,145.82 L407,145.87 L407.5,145.92 L408,145.97 L408.5,146.03 L409,146.08 L409.5,146.14 L410,146.2 L410.5,146.27 L411,146.33 L411.5,146.4 L412,146.47 L412.5,146.55 L413,146.63 L413.5,146.71 L414,146.8 L414.5,146.89 L415,146.98 L415.5,147.08 L416,147.18 L416.5,147.28 L417,147.38 L417.5,147.49 L418,147.59 L418.5,147.7 L419,147.8 L419.5,147.9 L420,148 L420.5,148.1 L421,148.2 L421.5,148.3 L422,148.4 L422.5,148.5 L423,148.61 L423.5,148.71 L424,148.81 L424.5,148.91 L425,149.02 L425.5,149.12 L426,149.22 L426.5,149.33 L427,149.43 L427.5,149.54 L428,149.64 L428.5,149.75 L429,149.86 L429.5,149.97 L430,150.07 L430.5,150.18 L431,150.29 L431.5,150.41 L432,150.52 L432.5,150.63 L433,150.75 L433.5,150.86 L434,150.98 L434.5,151.1 L435,151.22 L435.5,151.34 L436,151.46 L436.5,151.59 L437,151.71 L437.5,151.83 L438,151.96 L438.5,152.09 L439,152.22 L439.5,152.35 L440,152.49 L440.5,152.63 L441,152.77 L441.5,152.93 L442,153.08 L442.5,153.24 L443,153.41 L443.5,153.58 L444,153.75 L444.5,153.93 L445,154.12 L445.5,154.31 L446,154.51 L446.5,154.72 L447,154.93 L447.5,155.15 L448,155.37 L448.5,155.6 L449,155.83 L449.5,156.06 L450,156.29 L450.5,156.52 L451,156.76 L451.5,156.99 L452,157.22 L452.5,157.45 L453,157.68 L453.5,157.9 L454,158.12 L454.5,158.33 L455,158.55 L455.5,158.74 L456,158.94 L456.5,159.14 L457,159.32 L457.5,159.5 L458,159.68 L458.5,159.85 L459,160.03 L459.5,160.2 L460,160.36 L460.5,160.53 L461,160.69 L461.5,160.84 L462,161 L462.5,161.15 L463,161.3 L463.5,161.45 L464,161.6 L464.5,161.74 L465,161.89 L465.5,162.02 L466,162.16 L466.5,162.3 L467,162.43 L467.5,162.57 L468,162.7 L468.5,162.83 L469,162.96 L469.5,163.08 L470,163.21 L470.5,163.33 L471,163.45 L471.5,163.57 L472,163.68 L472.5,163.8 L473,163.91 L473.5,164.02 L474,164.13 L474.5,164.25 L475,164.35 L475.5,164.46 L476,164.57 L476.5,164.67 L477,164.78 L477.5,164.88 L478,164.98 L478.5,165.08 L479,165.18 L479.5,165.29 L480,165.38 L480.5,165.48 L481,165.58 L481.5,165.68 L482,165.77 L482.5,165.87 L483,165.97 L483.5,166.06 L484,166.16 L484.5,166.25 L485,166.35 L485.5,166.44 L486,166.53 L486.5,166.62 L487,166.71 L487.5,166.79 L488,166.87 L488.5,166.95 L489,167.03 L489.5,167.1 L490,167.18 L490.5,167.24 L491,167.31 L491.5,167.37 L492,167.42 L492.5,167.48 L493,167.53 L493.5,167.58 L494,167.63 L494.5,167.67 L495,167.71 L495.5,167.75 L496,167.78 L496.5,167.81 L497,167.83 L497.5,167.85 L498,167.87 L498.5,167.88 L499,167.89 L499.5,167.9 L500,167.91 L500.5,167.92 L501,167.93 L501.5,167.94 L502,167.95 L502.5,167.96 L503,167.97 L503.5,167.97 L504,167.98 L504.5,167.99 L505,168 L505.5,168.01 L506,168.01 L506.5,168.02 L507,168.03 L507.5,168.04 L508,168.04 L508.5,168.05 L509,168.05 L509.5,168.06 L510,168.07 L510.5,168.07 L511,168.08 L511.5,168.08 L512,168.09 L512.5,168.09 L513,168.1 L513.5,168.1 L514,168.11 L514.5,168.11 L515,168.12 L515.5,168.12 L516,168.12 L516.5,168.13 L517,168.13 L517.5,168.14 L518,168.14 L518.5,168.15 L519,168.15 L519.5,168.15 L520,168.16 L520.5,168.16 L521,168.17 L521.5,168.17 L522,168.17 L522.5,168.18 L523,168.18 L523.5,168.19 L524,168.19 L524.5,168.19 L525,168.2 L525.5,168.2 L526,168.2 L526.5,168.21 L527,168.21 L527.5,168.21 L528,168.22 L528.5,168.22 L529,168.23 L529.5,168.23 L530,168.23 L530.5,168.24 L531,168.24 L531.5,168.24 L532,168.25 L532.5,168.25 L533,168.25 L533.5,168.26 L534,168.26 L534.5,168.26 L535,168.27 L535.5,168.27 L536,168.27 L536.5,168.28 L537,168.28 L537.5,168.29 L538,168.29 L538.5,168.29 L539,168.3" fill="none" stroke="#7a0a0a" stroke-width="2.6" stroke-linejoin="round" stroke-linecap="round" />
<line x1="360.5" y1="102.2" x2="378.04" y2="116.52" stroke="#f02020" stroke-width="1.1" stroke-dasharray="1.2,1.2"/>
<path d="M382.3,120 L376.27,118.69 L379.81,114.35 Z" fill="#f01818"/>
<line x1="387.7" y1="87.3" x2="406.03" y2="100.4" stroke="#f02020" stroke-width="1.1" stroke-dasharray="1.2,1.2"/>
<path d="M410.5,103.6 L404.4,102.68 L407.65,98.12 Z" fill="#f01818"/>
<line x1="460" y1="30.5" x2="449.08" y2="45.19" stroke="#f02020" stroke-width="1.1" stroke-dasharray="1.2,1.2"/>
<path d="M445.8,49.6 L446.83,43.52 L451.33,46.86 Z" fill="#f01818"/>
<line x1="489" y1="97" x2="478.39" y2="107.61" stroke="#f02020" stroke-width="1.1" stroke-dasharray="1.2,1.2"/>
<path d="M474.5,111.5 L476.41,105.63 L480.37,109.59 Z" fill="#f01818"/>
<line x1="325" y1="175.6" x2="328.5" y2="175.6" stroke="#5a5a5a" stroke-width="0.9" />
<line x1="325" y1="167.68" x2="327" y2="167.68" stroke="#5a5a5a" stroke-width="0.9" />
<line x1="325" y1="159.76" x2="327" y2="159.76" stroke="#5a5a5a" stroke-width="0.9" />
<line x1="325" y1="151.84" x2="327" y2="151.84" stroke="#5a5a5a" stroke-width="0.9" />
<line x1="325" y1="143.92" x2="327" y2="143.92" stroke="#5a5a5a" stroke-width="0.9" />
<line x1="325" y1="136" x2="328.5" y2="136" stroke="#5a5a5a" stroke-width="0.9" />
<line x1="325" y1="128.08" x2="327" y2="128.08" stroke="#5a5a5a" stroke-width="0.9" />
<line x1="325" y1="120.16" x2="327" y2="120.16" stroke="#5a5a5a" stroke-width="0.9" />
<line x1="325" y1="112.24" x2="327" y2="112.24" stroke="#5a5a5a" stroke-width="0.9" />
<line x1="325" y1="104.32" x2="327" y2="104.32" stroke="#5a5a5a" stroke-width="0.9" />
<line x1="325" y1="96.4" x2="328.5" y2="96.4" stroke="#5a5a5a" stroke-width="0.9" />
<line x1="325" y1="88.48" x2="327" y2="88.48" stroke="#5a5a5a" stroke-width="0.9" />
<line x1="325" y1="80.56" x2="327" y2="80.56" stroke="#5a5a5a" stroke-width="0.9" />
<line x1="325" y1="72.64" x2="327" y2="72.64" stroke="#5a5a5a" stroke-width="0.9" />
<line x1="325" y1="64.72" x2="327" y2="64.72" stroke="#5a5a5a" stroke-width="0.9" />
<line x1="325" y1="56.8" x2="328.5" y2="56.8" stroke="#5a5a5a" stroke-width="0.9" />
<line x1="325" y1="48.88" x2="327" y2="48.88" stroke="#5a5a5a" stroke-width="0.9" />
<line x1="325" y1="40.96" x2="327" y2="40.96" stroke="#5a5a5a" stroke-width="0.9" />
<line x1="325" y1="33.04" x2="327" y2="33.04" stroke="#5a5a5a" stroke-width="0.9" />
<line x1="325" y1="25.12" x2="327" y2="25.12" stroke="#5a5a5a" stroke-width="0.9" />
<line x1="325" y1="17.2" x2="328.5" y2="17.2" stroke="#5a5a5a" stroke-width="0.9" />
<line x1="325" y1="9.28" x2="327" y2="9.28" stroke="#5a5a5a" stroke-width="0.9" />
<line x1="325" y1="177.5" x2="325" y2="174" stroke="#5a5a5a" stroke-width="0.9" />
<line x1="335.71" y1="177.5" x2="335.71" y2="175.5" stroke="#5a5a5a" stroke-width="0.9" />
<line x1="346.43" y1="177.5" x2="346.43" y2="175.5" stroke="#5a5a5a" stroke-width="0.9" />
<line x1="357.14" y1="177.5" x2="357.14" y2="175.5" stroke="#5a5a5a" stroke-width="0.9" />
<line x1="367.86" y1="177.5" x2="367.86" y2="174" stroke="#5a5a5a" stroke-width="0.9" />
<line x1="378.57" y1="177.5" x2="378.57" y2="175.5" stroke="#5a5a5a" stroke-width="0.9" />
<line x1="389.29" y1="177.5" x2="389.29" y2="175.5" stroke="#5a5a5a" stroke-width="0.9" />
<line x1="400" y1="177.5" x2="400" y2="175.5" stroke="#5a5a5a" stroke-width="0.9" />
<line x1="410.72" y1="177.5" x2="410.72" y2="174" stroke="#5a5a5a" stroke-width="0.9" />
<line x1="421.44" y1="177.5" x2="421.44" y2="175.5" stroke="#5a5a5a" stroke-width="0.9" />
<line x1="432.15" y1="177.5" x2="432.15" y2="175.5" stroke="#5a5a5a" stroke-width="0.9" />
<line x1="442.87" y1="177.5" x2="442.87" y2="175.5" stroke="#5a5a5a" stroke-width="0.9" />
<line x1="453.58" y1="177.5" x2="453.58" y2="174" stroke="#5a5a5a" stroke-width="0.9" />
<line x1="464.29" y1="177.5" x2="464.29" y2="175.5" stroke="#5a5a5a" stroke-width="0.9" />
<line x1="475.01" y1="177.5" x2="475.01" y2="175.5" stroke="#5a5a5a" stroke-width="0.9" />
<line x1="485.73" y1="177.5" x2="485.73" y2="175.5" stroke="#5a5a5a" stroke-width="0.9" />
<line x1="496.44" y1="177.5" x2="496.44" y2="174" stroke="#5a5a5a" stroke-width="0.9" />
<line x1="507.15" y1="177.5" x2="507.15" y2="175.5" stroke="#5a5a5a" stroke-width="0.9" />
<line x1="517.87" y1="177.5" x2="517.87" y2="175.5" stroke="#5a5a5a" stroke-width="0.9" />
<line x1="528.59" y1="177.5" x2="528.59" y2="175.5" stroke="#5a5a5a" stroke-width="0.9" />
<line x1="539.3" y1="177.5" x2="539.3" y2="174" stroke="#5a5a5a" stroke-width="0.9" />
<rect x="325.0" y="5.5" width="214" height="172" fill="none" stroke="#5a5a5a" stroke-width="1.35"/>
<text x="321.3" y="178.6" font-size="8.3" text-anchor="end" font-weight="bold" fill="#1a1a1a" >1000</text>
<text x="321.3" y="139" font-size="8.3" text-anchor="end" font-weight="bold" fill="#1a1a1a" >2000</text>
<text x="321.3" y="99.4" font-size="8.3" text-anchor="end" font-weight="bold" fill="#1a1a1a" >3000</text>
<text x="321.3" y="59.8" font-size="8.3" text-anchor="end" font-weight="bold" fill="#1a1a1a" >4000</text>
<text x="321.3" y="20.2" font-size="8.3" text-anchor="end" font-weight="bold" fill="#1a1a1a" >5000</text>
<text x="325" y="187.5" font-size="8.3" text-anchor="middle" font-weight="bold" fill="#1a1a1a" >536</text>
<text x="367.86" y="187.5" font-size="8.3" text-anchor="middle" font-weight="bold" fill="#1a1a1a" >534</text>
<text x="410.72" y="187.5" font-size="8.3" text-anchor="middle" font-weight="bold" fill="#1a1a1a" >532</text>
<text x="453.58" y="187.5" font-size="8.3" text-anchor="middle" font-weight="bold" fill="#1a1a1a" >530</text>
<text x="496.44" y="187.5" font-size="8.3" text-anchor="middle" font-weight="bold" fill="#1a1a1a" >528</text>
<text x="539.3" y="187.5" font-size="8.3" text-anchor="middle" font-weight="bold" fill="#1a1a1a" >526</text>
<text x="334.9" y="30.8" font-size="22" text-anchor="start" font-weight="bold" fill="#111" textLength="24.6" lengthAdjust="spacingAndGlyphs">(c)</text>
<text x="341.5" y="100.4" font-size="10" text-anchor="start" font-weight="bold" fill="#1a1a1a" >533.2 eV</text>
<text x="371.9" y="86.4" font-size="7.5" text-anchor="start" font-weight="bold" fill="#1a1a1a" >531.9 eV</text>
<text x="459" y="28.5" font-size="7.5" text-anchor="start" font-weight="bold" fill="#1a1a1a" >530.4 eV</text>
<text x="486.9" y="95.6" font-size="7.5" text-anchor="start" font-weight="bold" fill="#1a1a1a" >529 eV</text>
<text x="432.2" y="205.1" font-size="10" text-anchor="middle" font-weight="bold" fill="#1a1a1a" >Binding Energy (eV)</text>
<text x="0" y="0" font-size="10.4" font-weight="bold" fill="#1a1a1a" text-anchor="middle" transform="translate(288.8,98.55) rotate(-90)">Intensity (cps)</text>
<rect x="372.23" y="352.41" width="2" height="2" fill="#151515"/>
<rect x="375.22" y="349.64" width="2" height="2" fill="#151515"/>
<rect x="379.38" y="347.75" width="2" height="2" fill="#151515"/>
<rect x="382.85" y="345.62" width="2" height="2" fill="#151515"/>
<rect x="385.85" y="343.68" width="2" height="2" fill="#151515"/>
<rect x="388.64" y="341.14" width="2" height="2" fill="#151515"/>
<rect x="390.5" y="337.58" width="2" height="2" fill="#151515"/>
<rect x="394.59" y="335.95" width="2" height="2" fill="#151515"/>
<rect x="398" y="333.08" width="2" height="2" fill="#151515"/>
<rect x="399.96" y="329.61" width="2" height="2" fill="#151515"/>
<rect x="404.26" y="328.58" width="2" height="2" fill="#151515"/>
<rect x="408.12" y="326.81" width="2" height="2" fill="#151515"/>
<rect x="411.05" y="324.88" width="2" height="2" fill="#151515"/>
<rect x="413.63" y="320.62" width="2" height="2" fill="#151515"/>
<rect x="417.24" y="317.79" width="2" height="2" fill="#151515"/>
<rect x="420.94" y="316.76" width="2" height="2" fill="#151515"/>
<rect x="425.44" y="315.27" width="2" height="2" fill="#151515"/>
<rect x="426.1" y="309.94" width="2" height="2" fill="#151515"/>
<rect x="429.08" y="307.75" width="2" height="2" fill="#151515"/>
<rect x="431.97" y="304.2" width="2" height="2" fill="#151515"/>
<rect x="435.09" y="301.78" width="2" height="2" fill="#151515"/>
<rect x="435.52" y="297.7" width="2" height="2" fill="#151515"/>
<rect x="437.27" y="294.81" width="2" height="2" fill="#151515"/>
<rect x="438.22" y="290.81" width="2" height="2" fill="#151515"/>
<rect x="438.26" y="286.42" width="2" height="2" fill="#151515"/>
<rect x="439.13" y="281.48" width="2" height="2" fill="#151515"/>
<rect x="441.07" y="278.51" width="2" height="2" fill="#151515"/>
<rect x="441.92" y="274.41" width="2" height="2" fill="#151515"/>
<rect x="442.27" y="269.44" width="2" height="2" fill="#151515"/>
<rect x="445.32" y="265.41" width="2" height="2" fill="#151515"/>
<rect x="445.89" y="261.65" width="2" height="2" fill="#151515"/>
<rect x="447.68" y="257.95" width="2" height="2" fill="#151515"/>
<rect x="445.02" y="254.08" width="2" height="2" fill="#151515"/>
<rect x="448.12" y="251" width="2" height="2" fill="#151515"/>
<rect x="449.72" y="247.65" width="2" height="2" fill="#151515"/>
<rect x="450.13" y="243.64" width="2" height="2" fill="#151515"/>
<rect x="451.32" y="239.83" width="2" height="2" fill="#151515"/>
<rect x="452.49" y="236.66" width="2" height="2" fill="#151515"/>
<rect x="455.59" y="234.3" width="2" height="2" fill="#151515"/>
<rect x="456.05" y="230.29" width="2" height="2" fill="#151515"/>
<rect x="461.07" y="228.04" width="2" height="2" fill="#151515"/>
<rect x="464.93" y="231.88" width="2" height="2" fill="#151515"/>
<rect x="465" y="236.59" width="2" height="2" fill="#151515"/>
<rect x="468.84" y="240.28" width="2" height="2" fill="#151515"/>
<rect x="467.93" y="244.34" width="2" height="2" fill="#151515"/>
<rect x="469.83" y="248.15" width="2" height="2" fill="#151515"/>
<rect x="470.64" y="251.6" width="2" height="2" fill="#151515"/>
<rect x="471.19" y="255.23" width="2" height="2" fill="#151515"/>
<rect x="472.64" y="260.21" width="2" height="2" fill="#151515"/>
<rect x="471.22" y="264.58" width="2" height="2" fill="#151515"/>
<rect x="472.04" y="268.86" width="2" height="2" fill="#151515"/>
<rect x="473.24" y="273.12" width="2" height="2" fill="#151515"/>
<rect x="474.41" y="277.44" width="2" height="2" fill="#151515"/>
<rect x="476.61" y="281.59" width="2" height="2" fill="#151515"/>
<rect x="476.22" y="286.94" width="2" height="2" fill="#151515"/>
<rect x="476.52" y="290.37" width="2" height="2" fill="#151515"/>
<rect x="477.89" y="294.94" width="2" height="2" fill="#151515"/>
<rect x="476.95" y="299.57" width="2" height="2" fill="#151515"/>
<rect x="479.99" y="303.65" width="2" height="2" fill="#151515"/>
<rect x="478.38" y="308.05" width="2" height="2" fill="#151515"/>
<rect x="479.6" y="313.26" width="2" height="2" fill="#151515"/>
<rect x="480.08" y="317.61" width="2" height="2" fill="#151515"/>
<rect x="481.4" y="322.79" width="2" height="2" fill="#151515"/>
<rect x="482.53" y="337.59" width="2" height="2" fill="#151515"/>
<rect x="483.96" y="342.16" width="2" height="2" fill="#151515"/>
<rect x="486.18" y="346.26" width="2" height="2" fill="#151515"/>
<rect x="486.67" y="350.45" width="2" height="2" fill="#151515"/>
<rect x="488.54" y="355.87" width="2" height="2" fill="#151515"/>
<rect x="490" y="359.02" width="2" height="2" fill="#151515"/>
<rect x="490.66" y="363.65" width="2" height="2" fill="#151515"/>
<rect x="491.82" y="367.49" width="2" height="2" fill="#151515"/>
<rect x="493.18" y="370.67" width="2" height="2" fill="#151515"/>
<rect x="495.23" y="373.92" width="2" height="2" fill="#151515"/>
<rect x="497.68" y="377.81" width="2" height="2" fill="#151515"/>
<rect x="500.64" y="379.7" width="2" height="2" fill="#151515"/>
<rect x="503.68" y="383.76" width="2" height="2" fill="#151515"/>
<rect x="508.46" y="384.45" width="2" height="2" fill="#151515"/>
<rect x="512.71" y="379.09" width="2" height="2" fill="#151515"/>
<rect x="516.6" y="387.77" width="2" height="2" fill="#151515"/>
<rect x="520.61" y="384.59" width="2" height="2" fill="#151515"/>
<rect x="525.14" y="386.31" width="2" height="2" fill="#151515"/>
<rect x="528.6" y="383.18" width="2" height="2" fill="#151515"/>
<rect x="532.11" y="383.72" width="2" height="2" fill="#151515"/>
<rect x="536.13" y="385.23" width="2" height="2" fill="#151515"/>
<rect x="325.5" y="364.6" width="2" height="2" fill="#151515"/>
<rect x="327.2" y="365.2" width="2" height="2" fill="#151515"/>
<rect x="336.3" y="362.3" width="2" height="2" fill="#151515"/>
<rect x="340" y="363.4" width="2" height="2" fill="#151515"/>
<rect x="343.2" y="362.6" width="2" height="2" fill="#151515"/>
<rect x="346.5" y="362.2" width="2" height="2" fill="#151515"/>
<rect x="349.6" y="358.3" width="2" height="2" fill="#151515"/>
<rect x="352" y="362.8" width="2" height="2" fill="#151515"/>
<rect x="355" y="363" width="2" height="2" fill="#151515"/>
<rect x="361.7" y="362.3" width="2" height="2" fill="#151515"/>
<rect x="365.5" y="358.5" width="2" height="2" fill="#151515"/>
<rect x="368.5" y="357.8" width="2" height="2" fill="#151515"/>
<rect x="378.3" y="351.9" width="2" height="2" fill="#151515"/>
<rect x="382.1" y="349.4" width="2" height="2" fill="#151515"/>
<rect x="387.2" y="346.5" width="2" height="2" fill="#151515"/>
<rect x="489" y="358" width="2" height="2" fill="#151515"/>
<rect x="492.4" y="364.8" width="2" height="2" fill="#151515"/>
<rect x="496.9" y="372.6" width="2" height="2" fill="#151515"/>
<rect x="502.4" y="378.2" width="2" height="2" fill="#151515"/>
<rect x="506" y="379.5" width="2" height="2" fill="#151515"/>
<rect x="510.3" y="379.3" width="2" height="2" fill="#151515"/>
<rect x="514" y="380.8" width="2" height="2" fill="#151515"/>
<rect x="518.1" y="382" width="2" height="2" fill="#151515"/>
<rect x="522" y="383.5" width="2" height="2" fill="#151515"/>
<rect x="528.1" y="386" width="2" height="2" fill="#151515"/>
<rect x="532.5" y="384.8" width="2" height="2" fill="#151515"/>
<rect x="535.5" y="385.5" width="2" height="2" fill="#151515"/>
<path d="M324.6,361.8 L325.1,361.79 L325.6,361.78 L326.1,361.77 L326.6,361.76 L327.1,361.75 L327.6,361.74 L328.1,361.73 L328.6,361.72 L329.1,361.72 L329.6,361.71 L330.1,361.69 L330.6,361.68 L331.1,361.67 L331.6,361.66 L332.1,361.65 L332.6,361.64 L333.1,361.63 L333.6,361.62 L334.1,361.61 L334.6,361.59 L335.1,361.58 L335.6,361.57 L336.1,361.55 L336.6,361.54 L337.1,361.52 L337.6,361.5 L338.1,361.49 L338.6,361.47 L339.1,361.45 L339.6,361.43 L340.1,361.41 L340.6,361.39 L341.1,361.36 L341.6,361.34 L342.1,361.31 L342.6,361.29 L343.1,361.26 L343.6,361.22 L344.1,361.19 L344.6,361.16 L345.1,361.12 L345.6,361.08 L346.1,361.04 L346.6,360.99 L347.1,360.95 L347.6,360.9 L348.1,360.85 L348.6,360.79 L349.1,360.74 L349.6,360.68 L350.1,360.62 L350.6,360.55 L351.1,360.48 L351.6,360.41 L352.1,360.34 L352.6,360.26 L353.1,360.18 L353.6,360.1 L354.1,360.01 L354.6,359.93 L355.1,359.84 L355.6,359.74 L356.1,359.65 L356.6,359.55 L357.1,359.45 L357.6,359.35 L358.1,359.25 L358.6,359.15 L359.1,359.05 L359.6,358.95 L360.1,358.84 L360.6,358.74 L361.1,358.64 L361.6,358.54 L362.1,358.44 L362.6,358.35 L363.1,358.25 L363.6,358.16 L364.1,358.08 L364.6,357.99 L365.1,357.91 L365.6,357.83 L366.1,357.76 L366.6,357.7 L367.1,357.64 L367.6,357.58 L368.1,357.53 L368.6,357.49 L369.1,357.45 L369.6,357.42 L370.1,357.4 L370.6,357.39 L371.1,357.38 L371.6,357.37 L373.5,357.2 L373.81,356.87 L374.22,356.42 L374.72,355.88 L375.26,355.29 L375.84,354.68 L376.42,354.07 L376.98,353.5 L377.5,353 L377.97,352.57 L378.43,352.17 L378.88,351.81 L379.33,351.45 L379.78,351.09 L380.26,350.73 L380.76,350.33 L381.3,349.9 L381.88,349.43 L382.48,348.93 L383.11,348.41 L383.76,347.88 L384.43,347.33 L385.11,346.78 L385.8,346.24 L386.5,345.7 L387.22,345.17 L387.96,344.63 L388.71,344.09 L389.48,343.55 L390.25,343.01 L391.02,342.47 L391.77,341.93 L392.5,341.4 L393.21,340.87 L393.9,340.35 L394.59,339.84 L395.26,339.32 L395.94,338.8 L396.62,338.28 L397.3,337.74 L398,337.2 L398.71,336.65 L399.42,336.09 L400.14,335.53 L400.86,334.96 L401.58,334.39 L402.31,333.8 L403.05,333.21 L403.8,332.6 L404.56,331.97 L405.35,331.32 L406.15,330.65 L406.96,329.97 L407.75,329.3 L408.53,328.64 L409.28,328 L410,327.4 L410.67,326.83 L411.31,326.28 L411.93,325.75 L412.52,325.23 L413.11,324.73 L413.7,324.24 L414.29,323.77 L414.9,323.3 L415.52,322.85 L416.15,322.42 L416.77,322 L417.4,321.6 L418.03,321.2 L418.65,320.81 L419.28,320.41 L419.9,320 L420.52,319.59 L421.13,319.19 L421.74,318.8 L422.36,318.4 L422.97,318 L423.58,317.58 L424.19,317.15 L424.8,316.7 L425.42,316.23 L426.04,315.75 L426.67,315.26 L427.3,314.75 L427.92,314.23 L428.53,313.7 L429.13,313.16 L429.7,312.6 L430.26,312.04 L430.8,311.47 L431.33,310.9 L431.85,310.31 L432.36,309.7 L432.85,309.06 L433.33,308.4 L433.8,307.7 L434.26,306.97 L434.7,306.21 L435.13,305.42 L435.55,304.61 L435.96,303.77 L436.35,302.9 L436.73,302.01 L437.1,301.1 L437.46,300.14 L437.8,299.13 L438.13,298.09 L438.45,297.02 L438.76,295.95 L439.05,294.9 L439.33,293.87 L439.6,292.9 L439.85,291.99 L440.07,291.12 L440.28,290.28 L440.48,289.46 L440.68,288.64 L440.87,287.8 L441.08,286.93 L441.3,286 L441.54,285.02 L441.78,283.99 L442.03,282.92 L442.28,281.84 L442.54,280.76 L442.79,279.68 L443.05,278.62 L443.3,277.6 L443.55,276.61 L443.8,275.63 L444.05,274.67 L444.29,273.73 L444.54,272.79 L444.79,271.85 L445.05,270.93 L445.3,270 L445.56,269.08 L445.82,268.19 L446.08,267.3 L446.34,266.41 L446.61,265.53 L446.87,264.63 L447.14,263.73 L447.4,262.8 L447.66,261.85 L447.93,260.88 L448.19,259.89 L448.46,258.89 L448.72,257.9 L448.98,256.91 L449.24,255.95 L449.5,255 L449.75,254.08 L450,253.18 L450.24,252.3 L450.48,251.43 L450.72,250.55 L450.97,249.68 L451.23,248.8 L451.5,247.9 L451.79,246.97 L452.09,246.02 L452.41,245.05 L452.72,244.09 L453.05,243.13 L453.37,242.21 L453.69,241.33 L454,240.5 L454.31,239.72 L454.61,238.98 L454.92,238.28 L455.23,237.6 L455.53,236.96 L455.82,236.34 L456.12,235.76 L456.4,235.2 L456.68,234.67 L456.95,234.18 L457.21,233.72 L457.47,233.29 L457.73,232.88 L457.98,232.5 L458.24,232.14 L458.5,231.8 L458.76,231.47 L459.02,231.15 L459.29,230.85 L459.55,230.57 L459.81,230.33 L460.07,230.13 L460.34,229.98 L460.6,229.9 L460.86,229.87 L461.13,229.88 L461.39,229.94 L461.66,230.05 L461.92,230.21 L462.18,230.42 L462.44,230.68 L462.7,231 L462.96,231.4 L463.21,231.89 L463.47,232.44 L463.72,233.04 L463.97,233.66 L464.22,234.3 L464.46,234.91 L464.7,235.5 L464.94,236.06 L465.17,236.62 L465.4,237.18 L465.63,237.74 L465.86,238.3 L466.08,238.86 L466.29,239.43 L466.5,240 L466.7,240.55 L466.88,241.08 L467.04,241.59 L467.21,242.12 L467.38,242.67 L467.57,243.27 L467.77,243.94 L468,244.7 L468.26,245.55 L468.55,246.46 L468.86,247.44 L469.19,248.47 L469.51,249.55 L469.83,250.65 L470.13,251.77 L470.4,252.9 L470.65,254.05 L470.88,255.22 L471.09,256.42 L471.3,257.65 L471.5,258.9 L471.7,260.18 L471.9,261.48 L472.1,262.8 L472.3,264.15 L472.5,265.54 L472.7,266.96 L472.9,268.4 L473.1,269.85 L473.3,271.31 L473.5,272.76 L473.7,274.2 L473.91,275.65 L474.12,277.12 L474.34,278.6 L474.56,280.08 L474.78,281.54 L474.99,282.98 L475.2,284.37 L475.4,285.7 L475.59,286.96 L475.77,288.16 L475.95,289.32 L476.12,290.44 L476.29,291.56 L476.46,292.68 L476.63,293.82 L476.8,295 L476.98,296.22 L477.15,297.66 L477.33,299.14 L477.51,300.62 L477.68,302.09 L477.86,303.55 L478.03,305 L478.2,306.42 L478.37,307.8 L478.53,309.15 L478.69,310.47 L478.84,311.78 L479,313.1 L479.16,314.44 L479.33,315.81 L479.5,317.22 L479.69,318.77 L479.9,320.48 L480.11,322.27 L480.33,324.04" fill="none" stroke="#f01818" stroke-width="2.8" stroke-linejoin="round" stroke-linecap="round" />
<path d="M324.6,361.8 L325.1,361.79 L325.6,361.78 L326.1,361.77 L326.6,361.77 L327.1,361.76 L327.6,361.75 L328.1,361.74 L328.6,361.73 L329.1,361.72 L329.6,361.71 L330.1,361.7 L330.6,361.7 L331.1,361.69 L331.6,361.68 L332.1,361.67 L332.6,361.66 L333.1,361.65 L333.6,361.64 L334.1,361.63 L334.6,361.63 L335.1,361.62 L335.6,361.61 L336.1,361.6 L336.6,361.59 L337.1,361.58 L337.6,361.58 L338.1,361.57 L338.6,361.56 L339.1,361.55 L339.6,361.54 L340.1,361.53 L340.6,361.53 L341.1,361.52 L341.6,361.51 L342.1,361.5 L342.6,361.5 L343.1,361.49 L343.6,361.48 L344.1,361.47 L344.6,361.47 L345.1,361.46 L345.6,361.45 L346.1,361.45 L346.6,361.44 L347.1,361.43 L347.6,361.43 L348.1,361.42 L348.6,361.42 L349.1,361.41 L349.6,361.4 L350.1,361.4 L350.6,361.39 L351.1,361.39 L351.6,361.38 L352.1,361.38 L352.6,361.37 L353.1,361.37 L353.6,361.36 L354.1,361.36 L354.6,361.36 L355.1,361.35 L355.6,361.35 L356.1,361.34 L356.6,361.34 L357.1,361.33 L357.6,361.33 L358.1,361.32 L358.6,361.32 L359.1,361.32 L359.6,361.31 L360.1,361.31 L360.6,361.3 L361.1,361.3 L361.6,361.3 L362.1,361.29 L362.6,361.29 L363.1,361.29 L363.6,361.29 L364.1,361.28 L364.6,361.28 L365.1,361.28 L365.6,361.28 L366.1,361.27 L366.6,361.27 L367.1,361.27 L367.6,361.27 L368.1,361.27 L368.6,361.27 L369.1,361.27 L369.6,361.27 L370.1,361.27 L370.6,361.27 L371.1,361.27 L371.6,361.27 L372.1,361.28 L372.6,361.28 L373.1,361.28 L373.6,361.29 L374.1,361.29 L374.6,361.3 L375.1,361.3 L375.6,361.31 L376.1,361.32 L376.6,361.33 L377.1,361.34 L377.6,361.35 L378.1,361.36 L378.6,361.37 L379.1,361.39 L379.6,361.4 L380.1,361.42 L380.6,361.43 L381.1,361.45 L381.6,361.47 L382.1,361.49 L382.6,361.51 L383.1,361.54 L383.6,361.56 L384.1,361.58 L384.6,361.61 L385.1,361.63 L385.6,361.66 L386.1,361.69 L386.6,361.71 L387.1,361.74 L387.6,361.77 L388.1,361.8 L388.6,361.82 L389.1,361.85 L389.6,361.88 L390.1,361.91 L390.6,361.93 L391.1,361.96 L391.6,361.98 L392.1,362.01 L392.6,362.03 L393.1,362.06 L393.6,362.09 L394.1,362.12 L394.6,362.15 L395.1,362.18 L395.6,362.21 L396.1,362.24 L396.6,362.28 L397.1,362.32 L397.6,362.37 L398.1,362.41 L398.6,362.46 L399.1,362.51 L399.6,362.56 L400.1,362.61 L400.6,362.67 L401.1,362.72 L401.6,362.78 L402.1,362.84 L402.6,362.9 L403.1,362.96 L403.6,363.02 L404.1,363.08 L404.6,363.15 L405.1,363.21 L405.6,363.28 L406.1,363.34 L406.6,363.41 L407.1,363.48 L407.6,363.55 L408.1,363.62 L408.6,363.69 L409.1,363.76 L409.6,363.83 L410.1,363.9 L410.6,363.97 L411.1,364.04 L411.6,364.11 L412.1,364.19 L412.6,364.26 L413.1,364.33 L413.6,364.41 L414.1,364.49 L414.6,364.56 L415.1,364.64 L415.6,364.72 L416.1,364.8 L416.6,364.88 L417.1,364.96 L417.6,365.04 L418.1,365.12 L418.6,365.2 L419.1,365.28 L419.6,365.36 L420.1,365.44 L420.6,365.52 L421.1,365.6 L421.6,365.67 L422.1,365.74 L422.6,365.81 L423.1,365.88 L423.6,365.94 L424.1,365.99 L424.6,366.04 L425.1,366.08 L425.6,366.12 L426.1,366.15 L426.6,366.16 L427.1,366.17 L427.6,366.17 L428.1,366.15 L428.6,366.12 L429.1,366.08 L429.6,366.02 L430.1,365.94 L430.6,365.84 L431.1,365.72 L431.6,365.58 L432.1,365.41 L432.6,365.21 L433.1,364.98 L433.6,364.72 L434.1,364.42 L434.6,364.09 L435.1,363.71 L435.6,363.29 L436.1,362.82 L436.6,362.3 L437.1,361.72 L437.6,361.09 L438.1,360.4 L438.6,359.64 L439.1,358.81 L439.6,357.91 L440.1,356.93 L440.6,355.87 L441.1,354.73 L441.6,353.5 L442.1,352.18 L442.6,350.77 L443.1,349.27 L443.6,347.67 L444.1,345.97 L444.6,344.17 L445.1,342.28 L445.6,340.29 L446.1,338.19 L446.6,336 L447.1,333.72 L447.6,331.34 L448.1,328.88 L448.6,326.33 L449.1,323.7 L449.6,320.99 L450.1,318.22 L450.6,315.39 L451.1,312.51 L451.6,309.59 L452.1,306.64 L452.6,303.67 L453.1,300.69 L453.6,297.71 L454.1,294.75 L454.6,291.82 L455.1,288.93 L455.6,286.1 L456.1,283.34 L456.6,280.66 L457.1,278.07 L457.6,275.6 L458.1,273.26 L458.6,271.04 L459.1,268.99 L459.6,267.09 L460.1,265.36 L460.6,263.84 L461.1,262.5 L461.6,261.36 L462.1,260.45 L462.6,259.74 L463.1,259.26 L463.6,259 L464.1,258.97 L464.6,259.17 L465.1,259.55 L465.6,260.1 L466.1,260.81 L466.6,261.68 L467.1,262.72 L467.6,263.9 L468.1,265.23 L468.6,266.7 L469.1,268.31 L469.6,270.05 L470.1,271.9 L470.6,273.87 L471.1,275.96 L471.6,278.13 L472.1,280.4 L472.6,282.77 L473.1,285.2 L473.6,287.72 L474.1,290.3 L474.6,292.93 L475.1,295.62 L475.6,298.34 L476.1,301.09 L476.6,303.87 L477.1,306.65 L477.6,309.45 L478.1,312.24 L478.6,315.03 L479.1,317.8 L479.6,320.55 L480.1,323.26 L480.6,325.95 L481.1,328.6 L481.6,331.2 L482.1,333.75 L482.6,336.24 L483.1,338.67 L483.6,341.04 L484.1,343.35 L484.6,345.58 L485.1,347.74 L485.6,349.83 L486.1,351.84 L486.6,353.77 L487.1,355.64 L487.6,357.42 L488.1,359.12 L488.6,360.76 L489.1,362.31 L489.6,363.79 L490.1,365.2 L490.6,366.54 L491.1,367.8 L491.6,369 L492.1,370.13 L492.6,371.2 L493.1,372.21 L493.6,373.15 L494.1,374.04 L494.6,374.87 L495.1,375.65 L495.6,376.38 L496.1,377.06 L496.6,377.71 L497.1,378.3 L497.6,378.86 L498.1,379.37 L498.6,379.84 L499.1,380.26 L499.6,380.65 L500.1,381.01 L500.6,381.33 L501.1,381.62 L501.6,381.89 L502.1,382.13 L502.6,382.35 L503.1,382.55 L503.6,382.73 L504.1,382.9 L504.6,383.05 L505.1,383.18 L505.6,383.3 L506.1,383.41 L506.6,383.5 L507.1,383.59 L507.6,383.66 L508.1,383.73 L508.6,383.79 L509.1,383.84 L509.6,383.89 L510.1,383.93 L510.6,383.96 L511.1,383.99 L511.6,384.02 L512.1,384.04 L512.6,384.06 L513.1,384.08 L513.6,384.09 L514.1,384.1 L514.6,384.11 L515.1,384.12 L515.6,384.12 L516.1,384.13 L516.6,384.13 L517.1,384.13 L517.6,384.13 L518.1,384.13 L518.6,384.13 L519.1,384.13 L519.6,384.12 L520.1,384.12 L520.6,384.12 L521.1,384.11 L521.6,384.11 L522.1,384.1 L522.6,384.1 L523.1,384.09 L523.6,384.09 L524.1,384.08 L524.6,384.07 L525.1,384.07 L525.6,384.06 L526.1,384.06 L526.6,384.05 L527.1,384.04 L527.6,384.04 L528.1,384.03 L528.6,384.02 L529.1,384.01 L529.6,384.01 L530.1,384 L530.6,383.99 L531.1,383.99 L531.6,383.98 L532.1,383.97 L532.6,383.97 L533.1,383.96 L533.6,383.95 L534.1,383.95 L534.6,383.94 L535.1,383.93 L535.6,383.93 L536.1,383.92 L536.6,383.91 L537.1,383.91" fill="none" stroke="#ff10ff" stroke-width="2.4" stroke-linejoin="round" stroke-linecap="round" />
<path d="M324.6,361.8 L325.1,361.79 L325.6,361.78 L326.1,361.77 L326.6,361.77 L327.1,361.76 L327.6,361.75 L328.1,361.74 L328.6,361.73 L329.1,361.72 L329.6,361.71 L330.1,361.7 L330.6,361.7 L331.1,361.69 L331.6,361.68 L332.1,361.67 L332.6,361.66 L333.1,361.65 L333.6,361.64 L334.1,361.63 L334.6,361.63 L335.1,361.62 L335.6,361.61 L336.1,361.6 L336.6,361.59 L337.1,361.58 L337.6,361.58 L338.1,361.57 L338.6,361.56 L339.1,361.55 L339.6,361.54 L340.1,361.53 L340.6,361.53 L341.1,361.52 L341.6,361.51 L342.1,361.5 L342.6,361.5 L343.1,361.49 L343.6,361.48 L344.1,361.47 L344.6,361.47 L345.1,361.46 L345.6,361.45 L346.1,361.45 L346.6,361.44 L347.1,361.43 L347.6,361.43 L348.1,361.42 L348.6,361.42 L349.1,361.41 L349.6,361.4 L350.1,361.4 L350.6,361.39 L351.1,361.39 L351.6,361.38 L352.1,361.38 L352.6,361.37 L353.1,361.37 L353.6,361.36 L354.1,361.36 L354.6,361.36 L355.1,361.35 L355.6,361.35 L356.1,361.34 L356.6,361.34 L357.1,361.33 L357.6,361.33 L358.1,361.32 L358.6,361.32 L359.1,361.32 L359.6,361.31 L360.1,361.31 L360.6,361.3 L361.1,361.3 L361.6,361.3 L362.1,361.29 L362.6,361.29 L363.1,361.29 L363.6,361.29 L364.1,361.28 L364.6,361.28 L365.1,361.28 L365.6,361.28 L366.1,361.27 L366.6,361.27 L367.1,361.27 L367.6,361.27 L368.1,361.27 L368.6,361.27 L369.1,361.27 L369.6,361.27 L370.1,361.27 L370.6,361.27 L371.1,361.27 L371.6,361.27 L372.1,361.28 L372.6,361.28 L373.1,361.28 L373.6,361.29 L374.1,361.29 L374.6,361.3 L375.1,361.3 L375.6,361.31 L376.1,361.32 L376.6,361.33 L377.1,361.34 L377.6,361.35 L378.1,361.36 L378.6,361.37 L379.1,361.39 L379.6,361.4 L380.1,361.42 L380.6,361.43 L381.1,361.45 L381.6,361.47 L382.1,361.49 L382.6,361.51 L383.1,361.54 L383.6,361.56 L384.1,361.58 L384.6,361.61 L385.1,361.63 L385.6,361.66 L386.1,361.69 L386.6,361.71 L387.1,361.74 L387.6,361.77 L388.1,361.79 L388.6,361.82 L389.1,361.85 L389.6,361.88 L390.1,361.9 L390.6,361.93 L391.1,361.95 L391.6,361.98 L392.1,362 L392.6,362.02 L393.1,362.05 L393.6,362.08 L394.1,362.1 L394.6,362.13 L395.1,362.16 L395.6,362.19 L396.1,362.22 L396.6,362.25 L397.1,362.29 L397.6,362.33 L398.1,362.37 L398.6,362.41 L399.1,362.45 L399.6,362.49 L400.1,362.53 L400.6,362.58 L401.1,362.62 L401.6,362.66 L402.1,362.71 L402.6,362.75 L403.1,362.79 L403.6,362.83 L404.1,362.86 L404.6,362.9 L405.1,362.93 L405.6,362.96 L406.1,362.98 L406.6,363.01 L407.1,363.02 L407.6,363.04 L408.1,363.04 L408.6,363.05 L409.1,363.04 L409.6,363.03 L410.1,363.01 L410.6,362.98 L411.1,362.95 L411.6,362.9 L412.1,362.84 L412.6,362.77 L413.1,362.69 L413.6,362.6 L414.1,362.49 L414.6,362.37 L415.1,362.23 L415.6,362.08 L416.1,361.91 L416.6,361.72 L417.1,361.52 L417.6,361.29 L418.1,361.04 L418.6,360.77 L419.1,360.47 L419.6,360.15 L420.1,359.81 L420.6,359.43 L421.1,359.03 L421.6,358.6 L422.1,358.14 L422.6,357.65 L423.1,357.13 L423.6,356.58 L424.1,355.99 L424.6,355.37 L425.1,354.72 L425.6,354.04 L426.1,353.32 L426.6,352.57 L427.1,351.78 L427.6,350.97 L428.1,350.12 L428.6,349.25 L429.1,348.35 L429.6,347.42 L430.1,346.46 L430.6,345.48 L431.1,344.48 L431.6,343.47 L432.1,342.43 L432.6,341.38 L433.1,340.32 L433.6,339.25 L434.1,338.18 L434.6,337.1 L435.1,336.03 L435.6,334.96 L436.1,333.9 L436.6,332.85 L437.1,331.81 L437.6,330.8 L438.1,329.81 L438.6,328.85 L439.1,327.92 L439.6,327.03 L440.1,326.17 L440.6,325.36 L441.1,324.58 L441.6,323.86 L442.1,323.19 L442.6,322.58 L443.1,322.02 L443.6,321.52 L444.1,321.08 L444.6,320.71 L445.1,320.4 L445.6,320.17 L446.1,320 L446.6,319.9 L447.1,319.87 L447.6,319.91 L448.1,320.03 L448.6,320.21 L449.1,320.46 L449.6,320.78 L450.1,321.17 L450.6,321.63 L451.1,322.15 L451.6,322.73 L452.1,323.38 L452.6,324.09 L453.1,324.87 L453.6,325.69 L454.1,326.58 L454.6,327.52 L455.1,328.5 L455.6,329.53 L456.1,330.62 L456.6,331.73 L457.1,332.89 L457.6,334.09 L458.1,335.31 L458.6,336.56 L459.1,337.85 L459.6,339.16 L460.1,340.48 L460.6,341.83 L461.1,343.19 L461.6,344.56 L462.1,345.96 L462.6,347.34 L463.1,348.74 L463.6,350.13 L464.1,351.51 L464.6,352.88 L465.1,354.24 L465.6,355.58 L466.1,356.9 L466.6,358.19 L467.1,359.46 L467.6,360.69 L468.1,361.89 L468.6,363.06 L469.1,364.18 L469.6,365.28 L470.1,366.32 L470.6,367.32 L471.1,368.29 L471.6,369.2 L472.1,370.08 L472.6,370.92 L473.1,371.72 L473.6,372.49 L474.1,373.22 L474.6,373.91 L475.1,374.57 L475.6,375.19 L476.1,375.79 L476.6,376.35 L477.1,376.88 L477.6,377.38 L478.1,377.85 L478.6,378.3 L479.1,378.71 L479.6,379.11 L480.1,379.48 L480.6,379.83 L481.1,380.15 L481.6,380.46 L482.1,380.75 L482.6,381.01 L483.1,381.26 L483.6,381.49 L484.1,381.71 L484.6,381.9 L485.1,382.09 L485.6,382.26 L486.1,382.41 L486.6,382.55 L487.1,382.69 L487.6,382.81 L488.1,382.92 L488.6,383.03 L489.1,383.12 L489.6,383.21 L490.1,383.3 L490.6,383.37 L491.1,383.45 L491.6,383.51 L492.1,383.58 L492.6,383.63 L493.1,383.69 L493.6,383.74 L494.1,383.79 L494.6,383.84 L495.1,383.89 L495.6,383.94 L496.1,383.98 L496.6,384.03 L497.1,384.08 L497.6,384.13 L498.1,384.17 L498.6,384.2 L499.1,384.22 L499.6,384.24 L500.1,384.25 L500.6,384.27 L501.1,384.27 L501.6,384.28 L502.1,384.28 L502.6,384.29 L503.1,384.29 L503.6,384.29 L504.1,384.29 L504.6,384.29 L505.1,384.29 L505.6,384.29 L506.1,384.29 L506.6,384.28 L507.1,384.28 L507.6,384.28 L508.1,384.28 L508.6,384.27 L509.1,384.27 L509.6,384.26 L510.1,384.26 L510.6,384.25 L511.1,384.25 L511.6,384.24 L512.1,384.24 L512.6,384.23 L513.1,384.23 L513.6,384.22 L514.1,384.21 L514.6,384.21 L515.1,384.2 L515.6,384.2 L516.1,384.19 L516.6,384.18 L517.1,384.18 L517.6,384.17 L518.1,384.17 L518.6,384.16 L519.1,384.15 L519.6,384.15 L520.1,384.14 L520.6,384.13 L521.1,384.13 L521.6,384.12 L522.1,384.11 L522.6,384.11 L523.1,384.1 L523.6,384.09 L524.1,384.09 L524.6,384.08 L525.1,384.07 L525.6,384.06 L526.1,384.06 L526.6,384.05 L527.1,384.04 L527.6,384.04 L528.1,384.03 L528.6,384.02 L529.1,384.02 L529.6,384.01 L530.1,384 L530.6,383.99 L531.1,383.99 L531.6,383.98 L532.1,383.97 L532.6,383.97 L533.1,383.96 L533.6,383.95 L534.1,383.95 L534.6,383.94 L535.1,383.93 L535.6,383.93 L536.1,383.92 L536.6,383.91 L537.1,383.91" fill="none" stroke="#108010" stroke-width="2.4" stroke-linejoin="round" stroke-linecap="round" />
<path d="M324.6,361.8 L325.1,361.79 L325.6,361.78 L326.1,361.77 L326.6,361.77 L327.1,361.76 L327.6,361.75 L328.1,361.74 L328.6,361.73 L329.1,361.72 L329.6,361.71 L330.1,361.7 L330.6,361.7 L331.1,361.69 L331.6,361.68 L332.1,361.67 L332.6,361.66 L333.1,361.65 L333.6,361.64 L334.1,361.63 L334.6,361.63 L335.1,361.62 L335.6,361.61 L336.1,361.6 L336.6,361.59 L337.1,361.58 L337.6,361.58 L338.1,361.57 L338.6,361.56 L339.1,361.55 L339.6,361.54 L340.1,361.53 L340.6,361.53 L341.1,361.52 L341.6,361.51 L342.1,361.5 L342.6,361.5 L343.1,361.49 L343.6,361.48 L344.1,361.47 L344.6,361.47 L345.1,361.46 L345.6,361.45 L346.1,361.45 L346.6,361.44 L347.1,361.43 L347.6,361.43 L348.1,361.42 L348.6,361.42 L349.1,361.41 L349.6,361.4 L350.1,361.4 L350.6,361.39 L351.1,361.39 L351.6,361.38 L352.1,361.38 L352.6,361.37 L353.1,361.37 L353.6,361.36 L354.1,361.36 L354.6,361.36 L355.1,361.35 L355.6,361.35 L356.1,361.34 L356.6,361.34 L357.1,361.33 L357.6,361.33 L358.1,361.32 L358.6,361.32 L359.1,361.32 L359.6,361.31 L360.1,361.31 L360.6,361.3 L361.1,361.3 L361.6,361.3 L362.1,361.29 L362.6,361.29 L363.1,361.29 L363.6,361.29 L364.1,361.28 L364.6,361.28 L365.1,361.28 L365.6,361.28 L366.1,361.27 L366.6,361.27 L367.1,361.27 L367.6,361.27 L368.1,361.27 L368.6,361.27 L369.1,361.27 L369.6,361.27 L370.1,361.27 L370.6,361.27 L371.1,361.27 L371.6,361.27 L372.1,361.28 L372.6,361.28 L373.1,361.28 L373.6,361.29 L374.1,361.29 L374.6,361.3 L375.1,361.3 L375.6,361.31 L376.1,361.32 L376.6,361.32 L377.1,361.33 L377.6,361.34 L378.1,361.36 L378.6,361.37 L379.1,361.38 L379.6,361.39 L380.1,361.41 L380.6,361.42 L381.1,361.44 L381.6,361.45 L382.1,361.47 L382.6,361.49 L383.1,361.5 L383.6,361.52 L384.1,361.53 L384.6,361.55 L385.1,361.56 L385.6,361.58 L386.1,361.59 L386.6,361.6 L387.1,361.6 L387.6,361.61 L388.1,361.61 L388.6,361.6 L389.1,361.59 L389.6,361.57 L390.1,361.55 L390.6,361.52 L391.1,361.48 L391.6,361.43 L392.1,361.37 L392.6,361.31 L393.1,361.23 L393.6,361.13 L394.1,361.03 L394.6,360.91 L395.1,360.78 L395.6,360.63 L396.1,360.46 L396.6,360.27 L397.1,360.07 L397.6,359.84 L398.1,359.59 L398.6,359.32 L399.1,359.02 L399.6,358.7 L400.1,358.34 L400.6,357.97 L401.1,357.55 L401.6,357.11 L402.1,356.64 L402.6,356.14 L403.1,355.61 L403.6,355.05 L404.1,354.46 L404.6,353.84 L405.1,353.19 L405.6,352.52 L406.1,351.82 L406.6,351.11 L407.1,350.37 L407.6,349.62 L408.1,348.86 L408.6,348.08 L409.1,347.31 L409.6,346.53 L410.1,345.76 L410.6,344.99 L411.1,344.24 L411.6,343.51 L412.1,342.81 L412.6,342.13 L413.1,341.48 L413.6,340.87 L414.1,340.31 L414.6,339.8 L415.1,339.34 L415.6,338.93 L416.1,338.59 L416.6,338.31 L417.1,338.09 L417.6,337.95 L418.1,337.87 L418.6,337.87 L419.1,337.93 L419.6,338.06 L420.1,338.23 L420.6,338.44 L421.1,338.71 L421.6,339.02 L422.1,339.37 L422.6,339.77 L423.1,340.21 L423.6,340.69 L424.1,341.2 L424.6,341.75 L425.1,342.34 L425.6,342.95 L426.1,343.59 L426.6,344.26 L427.1,344.95 L427.6,345.66 L428.1,346.39 L428.6,347.13 L429.1,347.88 L429.6,348.65 L430.1,349.42 L430.6,350.2 L431.1,350.98 L431.6,351.76 L432.1,352.53 L432.6,353.31 L433.1,354.08 L433.6,354.84 L434.1,355.59 L434.6,356.33 L435.1,357.06 L435.6,357.78 L436.1,358.48 L436.6,359.17 L437.1,359.84 L437.6,360.5 L438.1,361.13 L438.6,361.75 L439.1,362.36 L439.6,362.94 L440.1,363.5 L440.6,364.05 L441.1,364.57 L441.6,365.08 L442.1,365.57 L442.6,366.04 L443.1,366.49 L443.6,366.93 L444.1,367.34 L444.6,367.74 L445.1,368.12 L445.6,368.49 L446.1,368.83 L446.6,369.17 L447.1,369.49 L447.6,369.79 L448.1,370.08 L448.6,370.35 L449.1,370.61 L449.6,370.86 L450.1,371.1 L450.6,371.33 L451.1,371.54 L451.6,371.75 L452.1,371.95 L452.6,372.15 L453.1,372.34 L453.6,372.52 L454.1,372.7 L454.6,372.88 L455.1,373.05 L455.6,373.22 L456.1,373.4 L456.6,373.57 L457.1,373.75 L457.6,373.93 L458.1,374.11 L458.6,374.28 L459.1,374.48 L459.6,374.67 L460.1,374.86 L460.6,375.08 L461.1,375.3 L461.6,375.52 L462.1,375.76 L462.6,376 L463.1,376.26 L463.6,376.52 L464.1,376.78 L464.6,377.04 L465.1,377.31 L465.6,377.58 L466.1,377.85 L466.6,378.11 L467.1,378.38 L467.6,378.63 L468.1,378.89 L468.6,379.13 L469.1,379.36 L469.6,379.59 L470.1,379.8 L470.6,380 L471.1,380.2 L471.6,380.37 L472.1,380.54 L472.6,380.71 L473.1,380.86 L473.6,381.02 L474.1,381.16 L474.6,381.3 L475.1,381.44 L475.6,381.57 L476.1,381.69 L476.6,381.81 L477.1,381.92 L477.6,382.03 L478.1,382.14 L478.6,382.24 L479.1,382.34 L479.6,382.44 L480.1,382.53 L480.6,382.62 L481.1,382.7 L481.6,382.78 L482.1,382.87 L482.6,382.94 L483.1,383.01 L483.6,383.09 L484.1,383.15 L484.6,383.21 L485.1,383.27 L485.6,383.32 L486.1,383.37 L486.6,383.42 L487.1,383.47 L487.6,383.51 L488.1,383.55 L488.6,383.59 L489.1,383.62 L489.6,383.66 L490.1,383.7 L490.6,383.73 L491.1,383.76 L491.6,383.79 L492.1,383.82 L492.6,383.85 L493.1,383.88 L493.6,383.91 L494.1,383.95 L494.6,383.98 L495.1,384.01 L495.6,384.04 L496.1,384.07 L496.6,384.11 L497.1,384.15 L497.6,384.19 L498.1,384.22 L498.6,384.25 L499.1,384.26 L499.6,384.28 L500.1,384.28 L500.6,384.29 L501.1,384.3 L501.6,384.3 L502.1,384.3 L502.6,384.3 L503.1,384.3 L503.6,384.3 L504.1,384.3 L504.6,384.3 L505.1,384.3 L505.6,384.29 L506.1,384.29 L506.6,384.29 L507.1,384.29 L507.6,384.28 L508.1,384.28 L508.6,384.27 L509.1,384.27 L509.6,384.26 L510.1,384.26 L510.6,384.25 L511.1,384.25 L511.6,384.24 L512.1,384.24 L512.6,384.23 L513.1,384.23 L513.6,384.22 L514.1,384.21 L514.6,384.21 L515.1,384.2 L515.6,384.2 L516.1,384.19 L516.6,384.18 L517.1,384.18 L517.6,384.17 L518.1,384.17 L518.6,384.16 L519.1,384.15 L519.6,384.15 L520.1,384.14 L520.6,384.13 L521.1,384.13 L521.6,384.12 L522.1,384.11 L522.6,384.11 L523.1,384.1 L523.6,384.09 L524.1,384.09 L524.6,384.08 L525.1,384.07 L525.6,384.06 L526.1,384.06 L526.6,384.05 L527.1,384.04 L527.6,384.04 L528.1,384.03 L528.6,384.02 L529.1,384.02 L529.6,384.01 L530.1,384 L530.6,383.99 L531.1,383.99 L531.6,383.98 L532.1,383.97 L532.6,383.97 L533.1,383.96 L533.6,383.95 L534.1,383.95 L534.6,383.94 L535.1,383.93 L535.6,383.93 L536.1,383.92 L536.6,383.91 L537.1,383.91" fill="none" stroke="#8a1cf0" stroke-width="2.4" stroke-linejoin="round" stroke-linecap="round" />
<path d="M324.6,361.8 L325.1,361.79 L325.6,361.78 L326.1,361.77 L326.6,361.77 L327.1,361.76 L327.6,361.75 L328.1,361.74 L328.6,361.73 L329.1,361.72 L329.6,361.71 L330.1,361.7 L330.6,361.7 L331.1,361.69 L331.6,361.68 L332.1,361.67 L332.6,361.66 L333.1,361.65 L333.6,361.64 L334.1,361.63 L334.6,361.63 L335.1,361.62 L335.6,361.61 L336.1,361.6 L336.6,361.59 L337.1,361.58 L337.6,361.58 L338.1,361.57 L338.6,361.56 L339.1,361.55 L339.6,361.54 L340.1,361.53 L340.6,361.53 L341.1,361.52 L341.6,361.51 L342.1,361.5 L342.6,361.5 L343.1,361.49 L343.6,361.48 L344.1,361.47 L344.6,361.47 L345.1,361.46 L345.6,361.45 L346.1,361.45 L346.6,361.44 L347.1,361.43 L347.6,361.43 L348.1,361.42 L348.6,361.42 L349.1,361.41 L349.6,361.4 L350.1,361.4 L350.6,361.39 L351.1,361.39 L351.6,361.38 L352.1,361.38 L352.6,361.37 L353.1,361.37 L353.6,361.36 L354.1,361.36 L354.6,361.35 L355.1,361.35 L355.6,361.34 L356.1,361.34 L356.6,361.33 L357.1,361.33 L357.6,361.32 L358.1,361.32 L358.6,361.31 L359.1,361.31 L359.6,361.3 L360.1,361.3 L360.6,361.29 L361.1,361.29 L361.6,361.28 L362.1,361.27 L362.6,361.27 L363.1,361.26 L363.6,361.25 L364.1,361.24 L364.6,361.24 L365.1,361.23 L365.6,361.22 L366.1,361.2 L366.6,361.19 L367.1,361.18 L367.6,361.16 L368.1,361.15 L368.6,361.13 L369.1,361.11 L369.6,361.09 L370.1,361.06 L370.6,361.04 L371.1,361.01 L371.6,360.98 L372.1,360.94 L372.6,360.9 L373.1,360.86 L373.6,360.81 L374.1,360.75 L374.6,360.7 L375.1,360.63 L375.6,360.56 L376.1,360.49 L376.6,360.41 L377.1,360.32 L377.6,360.22 L378.1,360.12 L378.6,360 L379.1,359.88 L379.6,359.75 L380.1,359.61 L380.6,359.46 L381.1,359.3 L381.6,359.13 L382.1,358.95 L382.6,358.75 L383.1,358.55 L383.6,358.33 L384.1,358.1 L384.6,357.86 L385.1,357.61 L385.6,357.34 L386.1,357.07 L386.6,356.78 L387.1,356.48 L387.6,356.17 L388.1,355.85 L388.6,355.52 L389.1,355.18 L389.6,354.83 L390.1,354.48 L390.6,354.12 L391.1,353.75 L391.6,353.38 L392.1,353.01 L392.6,352.64 L393.1,352.27 L393.6,351.9 L394.1,351.54 L394.6,351.18 L395.1,350.83 L395.6,350.5 L396.1,350.18 L396.6,349.87 L397.1,349.58 L397.6,349.31 L398.1,349.06 L398.6,348.83 L399.1,348.62 L399.6,348.43 L400.1,348.27 L400.6,348.14 L401.1,348.03 L401.6,347.95 L402.1,347.9 L402.6,347.88 L403.1,347.89 L403.6,347.92 L404.1,347.99 L404.6,348.09 L405.1,348.22 L405.6,348.38 L406.1,348.57 L406.6,348.79 L407.1,349.04 L407.6,349.32 L408.1,349.63 L408.6,349.96 L409.1,350.31 L409.6,350.69 L410.1,351.08 L410.6,351.5 L411.1,351.93 L411.6,352.37 L412.1,352.83 L412.6,353.3 L413.1,353.78 L413.6,354.26 L414.1,354.75 L414.6,355.25 L415.1,355.74 L415.6,356.24 L416.1,356.73 L416.6,357.22 L417.1,357.71 L417.6,358.19 L418.1,358.67 L418.6,359.14 L419.1,359.59 L419.6,360.04 L420.1,360.47 L420.6,360.9 L421.1,361.31 L421.6,361.71 L422.1,362.09 L422.6,362.46 L423.1,362.82 L423.6,363.16 L424.1,363.49 L424.6,363.8 L425.1,364.1 L425.6,364.39 L426.1,364.66 L426.6,364.92 L427.1,365.16 L427.6,365.4 L428.1,365.62 L428.6,365.84 L429.1,366.04 L429.6,366.23 L430.1,366.42 L430.6,366.59 L431.1,366.76 L431.6,366.93 L432.1,367.08 L432.6,367.23 L433.1,367.38 L433.6,367.53 L434.1,367.66 L434.6,367.8 L435.1,367.94 L435.6,368.07 L436.1,368.21 L436.6,368.34 L437.1,368.47 L437.6,368.6 L438.1,368.74 L438.6,368.87 L439.1,369.01 L439.6,369.14 L440.1,369.28 L440.6,369.42 L441.1,369.55 L441.6,369.69 L442.1,369.83 L442.6,369.97 L443.1,370.11 L443.6,370.26 L444.1,370.4 L444.6,370.54 L445.1,370.68 L445.6,370.82 L446.1,370.96 L446.6,371.11 L447.1,371.24 L447.6,371.38 L448.1,371.52 L448.6,371.66 L449.1,371.79 L449.6,371.92 L450.1,372.05 L450.6,372.18 L451.1,372.31 L451.6,372.43 L452.1,372.56 L452.6,372.69 L453.1,372.82 L453.6,372.95 L454.1,373.08 L454.6,373.21 L455.1,373.35 L455.6,373.49 L456.1,373.63 L456.6,373.78 L457.1,373.92 L457.6,374.08 L458.1,374.24 L458.6,374.4 L459.1,374.58 L459.6,374.76 L460.1,374.94 L460.6,375.15 L461.1,375.35 L461.6,375.57 L462.1,375.81 L462.6,376.04 L463.1,376.29 L463.6,376.54 L464.1,376.8 L464.6,377.06 L465.1,377.33 L465.6,377.59 L466.1,377.86 L466.6,378.12 L467.1,378.39 L467.6,378.64 L468.1,378.89 L468.6,379.13 L469.1,379.37 L469.6,379.6 L470.1,379.8 L470.6,380 L471.1,380.2 L471.6,380.37 L472.1,380.54 L472.6,380.71 L473.1,380.86 L473.6,381.02 L474.1,381.16 L474.6,381.3 L475.1,381.44 L475.6,381.57 L476.1,381.69 L476.6,381.81 L477.1,381.92 L477.6,382.03 L478.1,382.14 L478.6,382.24 L479.1,382.34 L479.6,382.44 L480.1,382.53 L480.6,382.62 L481.1,382.7 L481.6,382.78 L482.1,382.87 L482.6,382.94 L483.1,383.01 L483.6,383.09 L484.1,383.15 L484.6,383.21 L485.1,383.27 L485.6,383.32 L486.1,383.37 L486.6,383.42 L487.1,383.47 L487.6,383.51 L488.1,383.55 L488.6,383.59 L489.1,383.62 L489.6,383.66 L490.1,383.7 L490.6,383.73 L491.1,383.76 L491.6,383.79 L492.1,383.82 L492.6,383.85 L493.1,383.88 L493.6,383.91 L494.1,383.95 L494.6,383.98 L495.1,384.01 L495.6,384.04 L496.1,384.07 L496.6,384.11 L497.1,384.15 L497.6,384.19 L498.1,384.22 L498.6,384.25 L499.1,384.26 L499.6,384.28 L500.1,384.28 L500.6,384.29 L501.1,384.3 L501.6,384.3 L502.1,384.3 L502.6,384.3 L503.1,384.3 L503.6,384.3 L504.1,384.3 L504.6,384.3 L505.1,384.3 L505.6,384.29 L506.1,384.29 L506.6,384.29 L507.1,384.29 L507.6,384.28 L508.1,384.28 L508.6,384.27 L509.1,384.27 L509.6,384.26 L510.1,384.26 L510.6,384.25 L511.1,384.25 L511.6,384.24 L512.1,384.24 L512.6,384.23 L513.1,384.23 L513.6,384.22 L514.1,384.21 L514.6,384.21 L515.1,384.2 L515.6,384.2 L516.1,384.19 L516.6,384.18 L517.1,384.18 L517.6,384.17 L518.1,384.17 L518.6,384.16 L519.1,384.15 L519.6,384.15 L520.1,384.14 L520.6,384.13 L521.1,384.13 L521.6,384.12 L522.1,384.11 L522.6,384.11 L523.1,384.1 L523.6,384.09 L524.1,384.09 L524.6,384.08 L525.1,384.07 L525.6,384.06 L526.1,384.06 L526.6,384.05 L527.1,384.04 L527.6,384.04 L528.1,384.03 L528.6,384.02 L529.1,384.02 L529.6,384.01 L530.1,384 L530.6,383.99 L531.1,383.99 L531.6,383.98 L532.1,383.97 L532.6,383.97 L533.1,383.96 L533.6,383.95 L534.1,383.95 L534.6,383.94 L535.1,383.93 L535.6,383.93 L536.1,383.92 L536.6,383.91 L537.1,383.91" fill="none" stroke="#7a0f7a" stroke-width="2.4" stroke-linejoin="round" stroke-linecap="round" />
<path d="M324.6,361.8 L325.1,361.79 L325.6,361.78 L326.1,361.77 L326.6,361.76 L327.1,361.75 L327.6,361.74 L328.1,361.73 L328.6,361.72 L329.1,361.72 L329.6,361.71 L330.1,361.69 L330.6,361.68 L331.1,361.67 L331.6,361.66 L332.1,361.65 L332.6,361.64 L333.1,361.63 L333.6,361.62 L334.1,361.61 L334.6,361.59 L335.1,361.58 L335.6,361.57 L336.1,361.55 L336.6,361.54 L337.1,361.52 L337.6,361.5 L338.1,361.49 L338.6,361.47 L339.1,361.45 L339.6,361.43 L340.1,361.41 L340.6,361.39 L341.1,361.36 L341.6,361.34 L342.1,361.31 L342.6,361.29 L343.1,361.26 L343.6,361.22 L344.1,361.19 L344.6,361.16 L345.1,361.12 L345.6,361.08 L346.1,361.04 L346.6,360.99 L347.1,360.95 L347.6,360.9 L348.1,360.85 L348.6,360.79 L349.1,360.74 L349.6,360.68 L350.1,360.62 L350.6,360.55 L351.1,360.48 L351.6,360.41 L352.1,360.34 L352.6,360.26 L353.1,360.18 L353.6,360.1 L354.1,360.01 L354.6,359.93 L355.1,359.84 L355.6,359.74 L356.1,359.65 L356.6,359.55 L357.1,359.45 L357.6,359.35 L358.1,359.25 L358.6,359.15 L359.1,359.05 L359.6,358.95 L360.1,358.84 L360.6,358.74 L361.1,358.64 L361.6,358.54 L362.1,358.44 L362.6,358.35 L363.1,358.25 L363.6,358.16 L364.1,358.08 L364.6,357.99 L365.1,357.91 L365.6,357.83 L366.1,357.76 L366.6,357.7 L367.1,357.64 L367.6,357.58 L368.1,357.53 L368.6,357.49 L369.1,357.45 L369.6,357.42 L370.1,357.4 L370.6,357.39 L371.1,357.38 L371.6,357.37 L372.1,357.38 L372.6,357.39 L373.1,357.41 L373.6,357.44 L374.1,357.48 L374.6,357.52 L375.1,357.56 L375.6,357.62 L376.1,357.68 L376.6,357.75 L377.1,357.82 L377.6,357.9 L378.1,357.99 L378.6,358.08 L379.1,358.18 L379.6,358.28 L380.1,358.38 L380.6,358.49 L381.1,358.6 L381.6,358.71 L382.1,358.83 L382.6,358.95 L383.1,359.07 L383.6,359.19 L384.1,359.32 L384.6,359.44 L385.1,359.56 L385.6,359.68 L386.1,359.81 L386.6,359.93 L387.1,360.05 L387.6,360.17 L388.1,360.28 L388.6,360.39 L389.1,360.5 L389.6,360.61 L390.1,360.72 L390.6,360.82 L391.1,360.91 L391.6,361.01 L392.1,361.1 L392.6,361.19 L393.1,361.28 L393.6,361.36 L394.1,361.44 L394.6,361.52 L395.1,361.6 L395.6,361.68 L396.1,361.76 L396.6,361.84 L397.1,361.92 L397.6,361.99 L398.1,362.07 L398.6,362.15 L399.1,362.23 L399.6,362.3 L400.1,362.38 L400.6,362.46 L401.1,362.53 L401.6,362.61 L402.1,362.68 L402.6,362.76 L403.1,362.83 L403.6,362.91 L404.1,362.99 L404.6,363.06 L405.1,363.13 L405.6,363.21 L406.1,363.28 L406.6,363.36 L407.1,363.43 L407.6,363.5 L408.1,363.58 L408.6,363.65 L409.1,363.73 L409.6,363.8 L410.1,363.88 L410.6,363.95 L411.1,364.03 L411.6,364.1 L412.1,364.18 L412.6,364.25 L413.1,364.33 L413.6,364.41 L414.1,364.49 L414.6,364.57 L415.1,364.65 L415.6,364.73 L416.1,364.81 L416.6,364.89 L417.1,364.98 L417.6,365.07 L418.1,365.15 L418.6,365.24 L419.1,365.33 L419.6,365.42 L420.1,365.51 L420.6,365.6 L421.1,365.69 L421.6,365.78 L422.1,365.87 L422.6,365.97 L423.1,366.06 L423.6,366.15 L424.1,366.24 L424.6,366.33 L425.1,366.42 L425.6,366.51 L426.1,366.59 L426.6,366.68 L427.1,366.77 L427.6,366.85 L428.1,366.94 L428.6,367.02 L429.1,367.11 L429.6,367.2 L430.1,367.28 L430.6,367.37 L431.1,367.46 L431.6,367.55 L432.1,367.63 L432.6,367.72 L433.1,367.82 L433.6,367.91 L434.1,368 L434.6,368.1 L435.1,368.2 L435.6,368.3 L436.1,368.41 L436.6,368.51 L437.1,368.62 L437.6,368.74 L438.1,368.85 L438.6,368.97 L439.1,369.09 L439.6,369.22 L440.1,369.34 L440.6,369.47 L441.1,369.6 L441.6,369.73 L442.1,369.87 L442.6,370 L443.1,370.14 L443.6,370.28 L444.1,370.42 L444.6,370.56 L445.1,370.69 L445.6,370.83 L446.1,370.97 L446.6,371.11 L447.1,371.25 L447.6,371.39 L448.1,371.53 L448.6,371.66 L449.1,371.79 L449.6,371.92 L450.1,372.05 L450.6,372.18 L451.1,372.31 L451.6,372.44 L452.1,372.56 L452.6,372.69 L453.1,372.82 L453.6,372.95 L454.1,373.08 L454.6,373.21 L455.1,373.35 L455.6,373.49 L456.1,373.63 L456.6,373.78 L457.1,373.92 L457.6,374.08 L458.1,374.24 L458.6,374.4 L459.1,374.58 L459.6,374.76 L460.1,374.94 L460.6,375.15 L461.1,375.35 L461.6,375.57 L462.1,375.81 L462.6,376.04 L463.1,376.29 L463.6,376.54 L464.1,376.8 L464.6,377.06 L465.1,377.33 L465.6,377.59 L466.1,377.86 L466.6,378.12 L467.1,378.39 L467.6,378.64 L468.1,378.89 L468.6,379.13 L469.1,379.37 L469.6,379.6 L470.1,379.8 L470.6,380 L471.1,380.2 L471.6,380.37 L472.1,380.54 L472.6,380.71 L473.1,380.86 L473.6,381.02 L474.1,381.16 L474.6,381.3 L475.1,381.44 L475.6,381.57 L476.1,381.69 L476.6,381.81 L477.1,381.92 L477.6,382.03 L478.1,382.14 L478.6,382.24 L479.1,382.34 L479.6,382.44 L480.1,382.53 L480.6,382.62 L481.1,382.7 L481.6,382.78 L482.1,382.87 L482.6,382.94 L483.1,383.01 L483.6,383.09 L484.1,383.15 L484.6,383.21 L485.1,383.27 L485.6,383.32 L486.1,383.37 L486.6,383.42 L487.1,383.47 L487.6,383.51 L488.1,383.55 L488.6,383.59 L489.1,383.62 L489.6,383.66 L490.1,383.7 L490.6,383.73 L491.1,383.76 L491.6,383.79 L492.1,383.82 L492.6,383.85 L493.1,383.88 L493.6,383.91 L494.1,383.95 L494.6,383.98 L495.1,384.01 L495.6,384.04 L496.1,384.07 L496.6,384.11 L497.1,384.15 L497.6,384.19 L498.1,384.22 L498.6,384.25 L499.1,384.26 L499.6,384.28 L500.1,384.28 L500.6,384.29 L501.1,384.3 L501.6,384.3 L502.1,384.3 L502.6,384.3 L503.1,384.3 L503.6,384.3 L504.1,384.3 L504.6,384.3 L505.1,384.3 L505.6,384.29 L506.1,384.29 L506.6,384.29 L507.1,384.29 L507.6,384.28 L508.1,384.28 L508.6,384.27 L509.1,384.27 L509.6,384.26 L510.1,384.26 L510.6,384.25 L511.1,384.25 L511.6,384.24 L512.1,384.24 L512.6,384.23 L513.1,384.23 L513.6,384.22 L514.1,384.21 L514.6,384.21 L515.1,384.2 L515.6,384.2 L516.1,384.19 L516.6,384.18 L517.1,384.18 L517.6,384.17 L518.1,384.17 L518.6,384.16 L519.1,384.15 L519.6,384.15 L520.1,384.14 L520.6,384.13 L521.1,384.13 L521.6,384.12 L522.1,384.11 L522.6,384.11 L523.1,384.1 L523.6,384.09 L524.1,384.09 L524.6,384.08 L525.1,384.07 L525.6,384.06 L526.1,384.06 L526.6,384.05 L527.1,384.04 L527.6,384.04 L528.1,384.03 L528.6,384.02 L529.1,384.02 L529.6,384.01 L530.1,384 L530.6,383.99 L531.1,383.99 L531.6,383.98 L532.1,383.97 L532.6,383.97 L533.1,383.96 L533.6,383.95 L534.1,383.95 L534.6,383.94 L535.1,383.93 L535.6,383.93 L536.1,383.92 L536.6,383.91 L537.1,383.91" fill="none" stroke="#7a0a0a" stroke-width="2.4" stroke-linejoin="round" stroke-linecap="round" />
<path d="M324.6,361.8 L325.1,361.79 L325.6,361.78 L326.1,361.77 L326.6,361.77 L327.1,361.76 L327.6,361.75 L328.1,361.74 L328.6,361.73 L329.1,361.72 L329.6,361.71 L330.1,361.7 L330.6,361.7 L331.1,361.69 L331.6,361.68 L332.1,361.67 L332.6,361.66 L333.1,361.65 L333.6,361.64 L334.1,361.63 L334.6,361.63 L335.1,361.62 L335.6,361.61 L336.1,361.6 L336.6,361.59 L337.1,361.58 L337.6,361.58 L338.1,361.57 L338.6,361.56 L339.1,361.55 L339.6,361.54 L340.1,361.53 L340.6,361.53 L341.1,361.52 L341.6,361.51 L342.1,361.5 L342.6,361.5 L343.1,361.49 L343.6,361.48 L344.1,361.47 L344.6,361.47 L345.1,361.46 L345.6,361.45 L346.1,361.45 L346.6,361.44 L347.1,361.43 L347.6,361.43 L348.1,361.42 L348.6,361.42 L349.1,361.41 L349.6,361.4 L350.1,361.4 L350.6,361.39 L351.1,361.39 L351.6,361.38 L352.1,361.38 L352.6,361.37 L353.1,361.37 L353.6,361.36 L354.1,361.36 L354.6,361.36 L355.1,361.35 L355.6,361.35 L356.1,361.34 L356.6,361.34 L357.1,361.33 L357.6,361.33 L358.1,361.32 L358.6,361.32 L359.1,361.32 L359.6,361.31 L360.1,361.31 L360.6,361.3 L361.1,361.3 L361.6,361.3 L362.1,361.29 L362.6,361.29 L363.1,361.29 L363.6,361.29 L364.1,361.28 L364.6,361.28 L365.1,361.28 L365.6,361.28 L366.1,361.27 L366.6,361.27 L367.1,361.27 L367.6,361.27 L368.1,361.27 L368.6,361.27 L369.1,361.27 L369.6,361.27 L370.1,361.27 L370.6,361.27 L371.1,361.27 L371.6,361.27 L372.1,361.28 L372.6,361.28 L373.1,361.28 L373.6,361.29 L374.1,361.29 L374.6,361.3 L375.1,361.3 L375.6,361.31 L376.1,361.32 L376.6,361.33 L377.1,361.34 L377.6,361.35 L378.1,361.36 L378.6,361.37 L379.1,361.39 L379.6,361.4 L380.1,361.42 L380.6,361.43 L381.1,361.45 L381.6,361.47 L382.1,361.49 L382.6,361.51 L383.1,361.54 L383.6,361.56 L384.1,361.58 L384.6,361.61 L385.1,361.63 L385.6,361.66 L386.1,361.69 L386.6,361.71 L387.1,361.74 L387.6,361.77 L388.1,361.8 L388.6,361.82 L389.1,361.85 L389.6,361.88 L390.1,361.91 L390.6,361.93 L391.1,361.96 L391.6,361.98 L392.1,362.01 L392.6,362.03 L393.1,362.06 L393.6,362.09 L394.1,362.12 L394.6,362.15 L395.1,362.18 L395.6,362.21 L396.1,362.24 L396.6,362.28 L397.1,362.32 L397.6,362.37 L398.1,362.41 L398.6,362.46 L399.1,362.51 L399.6,362.56 L400.1,362.61 L400.6,362.67 L401.1,362.72 L401.6,362.78 L402.1,362.84 L402.6,362.9 L403.1,362.96 L403.6,363.02 L404.1,363.09 L404.6,363.15 L405.1,363.21 L405.6,363.28 L406.1,363.35 L406.6,363.41 L407.1,363.48 L407.6,363.55 L408.1,363.62 L408.6,363.69 L409.1,363.76 L409.6,363.83 L410.1,363.9 L410.6,363.97 L411.1,364.04 L411.6,364.12 L412.1,364.19 L412.6,364.27 L413.1,364.34 L413.6,364.42 L414.1,364.49 L414.6,364.57 L415.1,364.65 L415.6,364.73 L416.1,364.81 L416.6,364.9 L417.1,364.98 L417.6,365.07 L418.1,365.16 L418.6,365.24 L419.1,365.33 L419.6,365.42 L420.1,365.51 L420.6,365.6 L421.1,365.69 L421.6,365.78 L422.1,365.87 L422.6,365.97 L423.1,366.06 L423.6,366.15 L424.1,366.24 L424.6,366.33 L425.1,366.42 L425.6,366.51 L426.1,366.59 L426.6,366.68 L427.1,366.77 L427.6,366.85 L428.1,366.94 L428.6,367.02 L429.1,367.11 L429.6,367.2 L430.1,367.28 L430.6,367.37 L431.1,367.46 L431.6,367.55 L432.1,367.63 L432.6,367.72 L433.1,367.82 L433.6,367.91 L434.1,368 L434.6,368.1 L435.1,368.2 L435.6,368.3 L436.1,368.41 L436.6,368.51 L437.1,368.62 L437.6,368.74 L438.1,368.85 L438.6,368.97 L439.1,369.09 L439.6,369.22 L440.1,369.34 L440.6,369.47 L441.1,369.6 L441.6,369.73 L442.1,369.87 L442.6,370 L443.1,370.14 L443.6,370.28 L444.1,370.42 L444.6,370.56 L445.1,370.69 L445.6,370.83 L446.1,370.97 L446.6,371.11 L447.1,371.25 L447.6,371.39 L448.1,371.53 L448.6,371.66 L449.1,371.79 L449.6,371.92 L450.1,372.05 L450.6,372.18 L451.1,372.31 L451.6,372.44 L452.1,372.56 L452.6,372.69 L453.1,372.82 L453.6,372.95 L454.1,373.08 L454.6,373.21 L455.1,373.35 L455.6,373.49 L456.1,373.63 L456.6,373.78 L457.1,373.92 L457.6,374.08 L458.1,374.24 L458.6,374.4 L459.1,374.58 L459.6,374.76 L460.1,374.94 L460.6,375.15 L461.1,375.35 L461.6,375.57 L462.1,375.81 L462.6,376.04 L463.1,376.29 L463.6,376.54 L464.1,376.8 L464.6,377.06 L465.1,377.33 L465.6,377.59 L466.1,377.86 L466.6,378.12 L467.1,378.39 L467.6,378.64 L468.1,378.89 L468.6,379.13 L469.1,379.37 L469.6,379.6 L470.1,379.8 L470.6,380 L471.1,380.2 L471.6,380.37 L472.1,380.54 L472.6,380.71 L473.1,380.86 L473.6,381.02 L474.1,381.16 L474.6,381.3 L475.1,381.44 L475.6,381.57 L476.1,381.69 L476.6,381.81 L477.1,381.92 L477.6,382.03 L478.1,382.14 L478.6,382.24 L479.1,382.34 L479.6,382.44 L480.1,382.53 L480.6,382.62 L481.1,382.7 L481.6,382.78 L482.1,382.87 L482.6,382.94 L483.1,383.01 L483.6,383.09 L484.1,383.15 L484.6,383.21 L485.1,383.27 L485.6,383.32 L486.1,383.37 L486.6,383.42 L487.1,383.47 L487.6,383.51 L488.1,383.55 L488.6,383.59 L489.1,383.62 L489.6,383.66 L490.1,383.7 L490.6,383.73 L491.1,383.76 L491.6,383.79 L492.1,383.82 L492.6,383.85 L493.1,383.88 L493.6,383.91 L494.1,383.95 L494.6,383.98 L495.1,384.01 L495.6,384.04 L496.1,384.07 L496.6,384.11 L497.1,384.15 L497.6,384.19 L498.1,384.22 L498.6,384.25 L499.1,384.26 L499.6,384.28 L500.1,384.28 L500.6,384.29 L501.1,384.3 L501.6,384.3 L502.1,384.3 L502.6,384.3 L503.1,384.3 L503.6,384.3 L504.1,384.3 L504.6,384.3 L505.1,384.3 L505.6,384.29 L506.1,384.29 L506.6,384.29 L507.1,384.29 L507.6,384.28 L508.1,384.28 L508.6,384.27 L509.1,384.27 L509.6,384.26 L510.1,384.26 L510.6,384.25 L511.1,384.25 L511.6,384.24 L512.1,384.24 L512.6,384.23 L513.1,384.23 L513.6,384.22 L514.1,384.21 L514.6,384.21 L515.1,384.2 L515.6,384.2 L516.1,384.19 L516.6,384.18 L517.1,384.18 L517.6,384.17 L518.1,384.17 L518.6,384.16 L519.1,384.15 L519.6,384.15 L520.1,384.14 L520.6,384.13 L521.1,384.13 L521.6,384.12 L522.1,384.11 L522.6,384.11 L523.1,384.1 L523.6,384.09 L524.1,384.09 L524.6,384.08 L525.1,384.07 L525.6,384.06 L526.1,384.06 L526.6,384.05 L527.1,384.04 L527.6,384.04 L528.1,384.03 L528.6,384.02 L529.1,384.02 L529.6,384.01 L530.1,384 L530.6,383.99 L531.1,383.99 L531.6,383.98 L532.1,383.97 L532.6,383.97 L533.1,383.96 L533.6,383.95 L534.1,383.95 L534.6,383.94 L535.1,383.93 L535.6,383.93 L536.1,383.92 L536.6,383.91 L537.1,383.91" fill="none" stroke="#7a0a0a" stroke-width="2.6" stroke-linejoin="round" stroke-linecap="round" />
<line x1="364.6" y1="342.7" x2="369.9" y2="353.65" stroke="#f02020" stroke-width="1.1" stroke-dasharray="1.2,1.2"/>
<path d="M372.3,358.6 L367.38,354.87 L372.42,352.43 Z" fill="#f01818"/>
<line x1="389.5" y1="332.6" x2="395.74" y2="341.5" stroke="#f02020" stroke-width="1.1" stroke-dasharray="1.2,1.2"/>
<path d="M398.9,346 L393.45,343.11 L398.03,339.89 Z" fill="#f01818"/>
<line x1="408.8" y1="315.8" x2="416.9" y2="332.55" stroke="#f02020" stroke-width="1.1" stroke-dasharray="1.2,1.2"/>
<path d="M419.3,337.5 L414.38,333.77 L419.42,331.33 Z" fill="#f01818"/>
<line x1="482.9" y1="238.6" x2="472.83" y2="248.96" stroke="#f02020" stroke-width="1.1" stroke-dasharray="1.2,1.2"/>
<path d="M469,252.9 L470.83,247 L474.84,250.91 Z" fill="#f01818"/>
<line x1="324.6" y1="389.9" x2="328.1" y2="389.9" stroke="#5a5a5a" stroke-width="0.9" />
<line x1="324.6" y1="383.4" x2="326.6" y2="383.4" stroke="#5a5a5a" stroke-width="0.9" />
<line x1="324.6" y1="376.9" x2="326.6" y2="376.9" stroke="#5a5a5a" stroke-width="0.9" />
<line x1="324.6" y1="370.4" x2="326.6" y2="370.4" stroke="#5a5a5a" stroke-width="0.9" />
<line x1="324.6" y1="363.9" x2="326.6" y2="363.9" stroke="#5a5a5a" stroke-width="0.9" />
<line x1="324.6" y1="357.4" x2="328.1" y2="357.4" stroke="#5a5a5a" stroke-width="0.9" />
<line x1="324.6" y1="350.9" x2="326.6" y2="350.9" stroke="#5a5a5a" stroke-width="0.9" />
<line x1="324.6" y1="344.4" x2="326.6" y2="344.4" stroke="#5a5a5a" stroke-width="0.9" />
<line x1="324.6" y1="337.9" x2="326.6" y2="337.9" stroke="#5a5a5a" stroke-width="0.9" />
<line x1="324.6" y1="331.4" x2="326.6" y2="331.4" stroke="#5a5a5a" stroke-width="0.9" />
<line x1="324.6" y1="324.9" x2="328.1" y2="324.9" stroke="#5a5a5a" stroke-width="0.9" />
<line x1="324.6" y1="318.4" x2="326.6" y2="318.4" stroke="#5a5a5a" stroke-width="0.9" />
<line x1="324.6" y1="311.9" x2="326.6" y2="311.9" stroke="#5a5a5a" stroke-width="0.9" />
<line x1="324.6" y1="305.4" x2="326.6" y2="305.4" stroke="#5a5a5a" stroke-width="0.9" />
<line x1="324.6" y1="298.9" x2="326.6" y2="298.9" stroke="#5a5a5a" stroke-width="0.9" />
<line x1="324.6" y1="292.4" x2="328.1" y2="292.4" stroke="#5a5a5a" stroke-width="0.9" />
<line x1="324.6" y1="285.9" x2="326.6" y2="285.9" stroke="#5a5a5a" stroke-width="0.9" />
<line x1="324.6" y1="279.4" x2="326.6" y2="279.4" stroke="#5a5a5a" stroke-width="0.9" />
<line x1="324.6" y1="272.9" x2="326.6" y2="272.9" stroke="#5a5a5a" stroke-width="0.9" />
<line x1="324.6" y1="266.4" x2="326.6" y2="266.4" stroke="#5a5a5a" stroke-width="0.9" />
<line x1="324.6" y1="259.9" x2="328.1" y2="259.9" stroke="#5a5a5a" stroke-width="0.9" />
<line x1="324.6" y1="253.4" x2="326.6" y2="253.4" stroke="#5a5a5a" stroke-width="0.9" />
<line x1="324.6" y1="246.9" x2="326.6" y2="246.9" stroke="#5a5a5a" stroke-width="0.9" />
<line x1="324.6" y1="240.4" x2="326.6" y2="240.4" stroke="#5a5a5a" stroke-width="0.9" />
<line x1="324.6" y1="233.9" x2="326.6" y2="233.9" stroke="#5a5a5a" stroke-width="0.9" />
<line x1="324.6" y1="227.4" x2="328.1" y2="227.4" stroke="#5a5a5a" stroke-width="0.9" />
<line x1="324.6" y1="220.9" x2="326.6" y2="220.9" stroke="#5a5a5a" stroke-width="0.9" />
<line x1="324.8" y1="391.2" x2="324.8" y2="387.7" stroke="#5a5a5a" stroke-width="0.9" />
<line x1="335.44" y1="391.2" x2="335.44" y2="389.2" stroke="#5a5a5a" stroke-width="0.9" />
<line x1="346.07" y1="391.2" x2="346.07" y2="389.2" stroke="#5a5a5a" stroke-width="0.9" />
<line x1="356.71" y1="391.2" x2="356.71" y2="389.2" stroke="#5a5a5a" stroke-width="0.9" />
<line x1="367.34" y1="391.2" x2="367.34" y2="387.7" stroke="#5a5a5a" stroke-width="0.9" />
<line x1="377.98" y1="391.2" x2="377.98" y2="389.2" stroke="#5a5a5a" stroke-width="0.9" />
<line x1="388.61" y1="391.2" x2="388.61" y2="389.2" stroke="#5a5a5a" stroke-width="0.9" />
<line x1="399.25" y1="391.2" x2="399.25" y2="389.2" stroke="#5a5a5a" stroke-width="0.9" />
<line x1="409.88" y1="391.2" x2="409.88" y2="387.7" stroke="#5a5a5a" stroke-width="0.9" />
<line x1="420.51" y1="391.2" x2="420.51" y2="389.2" stroke="#5a5a5a" stroke-width="0.9" />
<line x1="431.15" y1="391.2" x2="431.15" y2="389.2" stroke="#5a5a5a" stroke-width="0.9" />
<line x1="441.79" y1="391.2" x2="441.79" y2="389.2" stroke="#5a5a5a" stroke-width="0.9" />
<line x1="452.42" y1="391.2" x2="452.42" y2="387.7" stroke="#5a5a5a" stroke-width="0.9" />
<line x1="463.06" y1="391.2" x2="463.06" y2="389.2" stroke="#5a5a5a" stroke-width="0.9" />
<line x1="473.69" y1="391.2" x2="473.69" y2="389.2" stroke="#5a5a5a" stroke-width="0.9" />
<line x1="484.33" y1="391.2" x2="484.33" y2="389.2" stroke="#5a5a5a" stroke-width="0.9" />
<line x1="494.96" y1="391.2" x2="494.96" y2="387.7" stroke="#5a5a5a" stroke-width="0.9" />
<line x1="505.6" y1="391.2" x2="505.6" y2="389.2" stroke="#5a5a5a" stroke-width="0.9" />
<line x1="516.23" y1="391.2" x2="516.23" y2="389.2" stroke="#5a5a5a" stroke-width="0.9" />
<line x1="526.87" y1="391.2" x2="526.87" y2="389.2" stroke="#5a5a5a" stroke-width="0.9" />
<line x1="537.5" y1="391.2" x2="537.5" y2="387.7" stroke="#5a5a5a" stroke-width="0.9" />
<rect x="324.6" y="219.5" width="212.9" height="171.7" fill="none" stroke="#5a5a5a" stroke-width="1.35"/>
<text x="320.5" y="392.5" font-size="8.3" text-anchor="end" font-weight="bold" fill="#1a1a1a" >2000</text>
<text x="320.5" y="360" font-size="8.3" text-anchor="end" font-weight="bold" fill="#1a1a1a" >3000</text>
<text x="320.5" y="327.5" font-size="8.3" text-anchor="end" font-weight="bold" fill="#1a1a1a" >4000</text>
<text x="320.5" y="295" font-size="8.3" text-anchor="end" font-weight="bold" fill="#1a1a1a" >5000</text>
<text x="320.5" y="262.5" font-size="8.3" text-anchor="end" font-weight="bold" fill="#1a1a1a" >6000</text>
<text x="320.5" y="230" font-size="8.3" text-anchor="end" font-weight="bold" fill="#1a1a1a" >7000</text>
<text x="324.8" y="402.2" font-size="8.3" text-anchor="middle" font-weight="bold" fill="#1a1a1a" >536</text>
<text x="367.34" y="402.2" font-size="8.3" text-anchor="middle" font-weight="bold" fill="#1a1a1a" >534</text>
<text x="409.88" y="402.2" font-size="8.3" text-anchor="middle" font-weight="bold" fill="#1a1a1a" >532</text>
<text x="452.42" y="402.2" font-size="8.3" text-anchor="middle" font-weight="bold" fill="#1a1a1a" >530</text>
<text x="494.96" y="402.2" font-size="8.3" text-anchor="middle" font-weight="bold" fill="#1a1a1a" >528</text>
<text x="537.5" y="402.2" font-size="8.3" text-anchor="middle" font-weight="bold" fill="#1a1a1a" >526</text>
<text x="331.3" y="244.3" font-size="22" text-anchor="start" font-weight="bold" fill="#111" textLength="28.2" lengthAdjust="spacingAndGlyphs">(d)</text>
<text x="341.1" y="342.3" font-size="7.5" text-anchor="start" font-weight="bold" fill="#1a1a1a" >533.6 eV</text>
<text x="370.8" y="330" font-size="7.5" text-anchor="start" font-weight="bold" fill="#1a1a1a" >531.3 eV</text>
<text x="394.7" y="313.3" font-size="7.5" text-anchor="start" font-weight="bold" fill="#1a1a1a" >531.6 eV</text>
<text x="440.5" y="317.5" font-size="7.5" text-anchor="start" font-weight="bold" fill="#1a1a1a" >530.2 eV</text>
<text x="480.9" y="237.6" font-size="7.5" text-anchor="start" font-weight="bold" fill="#1a1a1a" >529.3 eV</text>
<text x="430.6" y="419" font-size="10" text-anchor="middle" font-weight="bold" fill="#1a1a1a" >Binding Energy (eV)</text>
<text x="0" y="0" font-size="10.4" font-weight="bold" fill="#1a1a1a" text-anchor="middle" transform="translate(288.8,312.35) rotate(-90)">Intensity (cps)</text>
</svg>
</body></html>
